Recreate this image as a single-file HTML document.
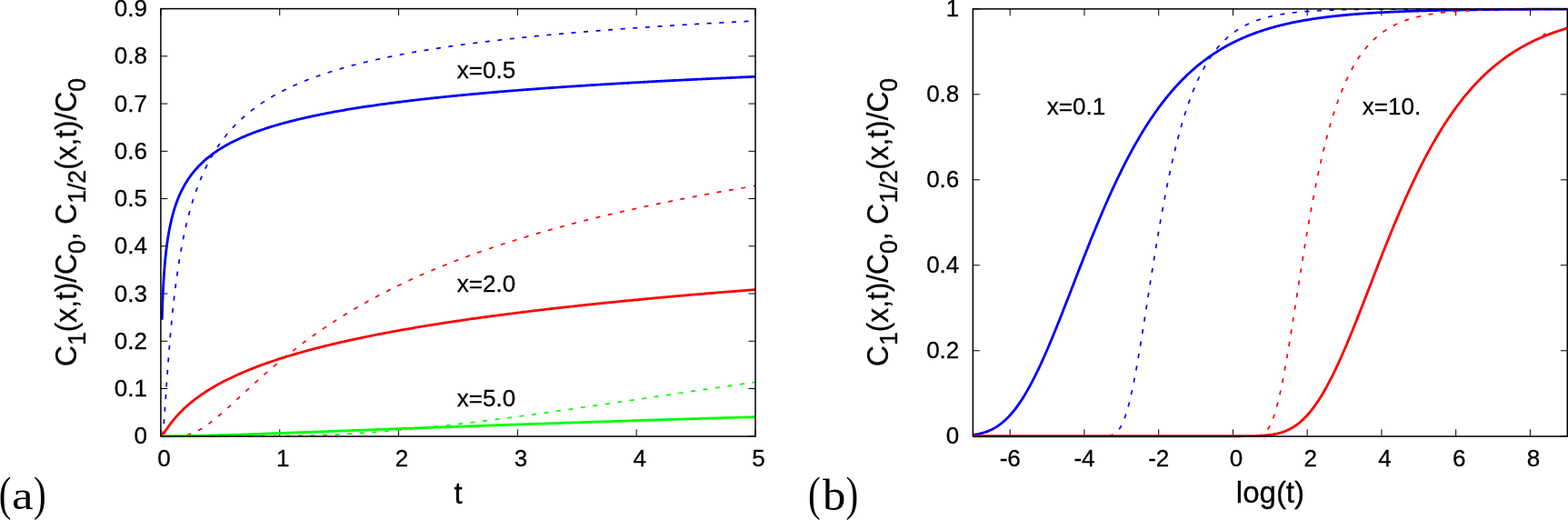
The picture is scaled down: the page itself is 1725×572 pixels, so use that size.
<!DOCTYPE html>
<html><head><meta charset="utf-8"><title>plot</title>
<style>html,body{margin:0;padding:0;background:#fff;overflow:hidden}svg{display:block}
text{font-family:"Liberation Sans",Arial,sans-serif;fill:#000;stroke:#000;stroke-width:0.3px}.serif text{font-family:"Liberation Serif","Times New Roman",serif;stroke:none}</style></head>
<body>
<svg width="1725" height="572" viewBox="0 0 1725 572">
<rect width="1725" height="572" fill="#fff"/>
<g id="pa">
<path d="M176.90 479.75 V472.25 M176.90 9.6 V17.1 M307.72 479.75 V472.25 M307.72 9.6 V17.1 M438.54 479.75 V472.25 M438.54 9.6 V17.1 M569.36 479.75 V472.25 M569.36 9.6 V17.1 M700.18 479.75 V472.25 M700.18 9.6 V17.1 M831.00 479.75 V472.25 M831.00 9.6 V17.1 M176.9 479.75 H184.4 M831.0 479.75 H823.5 M176.9 427.51 H184.4 M831.0 427.51 H823.5 M176.9 375.27 H184.4 M831.0 375.27 H823.5 M176.9 323.03 H184.4 M831.0 323.03 H823.5 M176.9 270.79 H184.4 M831.0 270.79 H823.5 M176.9 218.56 H184.4 M831.0 218.56 H823.5 M176.9 166.32 H184.4 M831.0 166.32 H823.5 M176.9 114.08 H184.4 M831.0 114.08 H823.5 M176.9 61.84 H184.4 M831.0 61.84 H823.5 M176.9 9.60 H184.4 M831.0 9.60 H823.5" stroke="#000" stroke-width="1" fill="none"/>
<path d="M178.21 351.82 L178.42 344.59 L178.63 338.23 L178.83 332.55 L179.04 327.42 L179.25 322.74 L179.46 318.45 L179.67 314.48 L179.88 310.79 L180.09 307.35 L180.30 304.12 L180.51 301.09 L180.71 298.22 L180.92 295.50 L181.13 292.93 L181.34 290.47 L181.55 288.13 L181.76 285.90 L181.97 283.76 L182.18 281.71 L182.39 279.74 L182.59 277.84 L182.80 276.01 L183.01 274.25 L183.22 272.55 L183.43 270.91 L183.64 269.32 L183.85 267.78 L184.06 266.29 L184.27 264.84 L184.47 263.44 L184.68 262.07 L184.89 260.74 L185.10 259.45 L185.31 258.19 L185.52 256.97 L185.73 255.77 L185.94 254.61 L186.15 253.47 L186.35 252.36 L186.56 251.27 L186.77 250.21 L186.98 249.17 L187.19 248.16 L187.40 247.17 L187.61 246.19 L187.82 245.24 L188.03 244.31 L188.23 243.39 L188.44 242.49 L188.65 241.61 L188.86 240.75 L189.07 239.90 L189.28 239.07 L189.49 238.25 L189.70 237.45 L189.91 236.66 L190.11 235.89 L190.32 235.12 L190.53 234.37 L190.74 233.64 L190.95 232.91 L191.16 232.20 L191.37 231.49 L191.58 230.80 L191.78 230.12 L191.99 229.45 L192.20 228.78 L192.41 228.13 L192.62 227.49 L192.83 226.86 L193.04 226.23 L193.25 225.62 L193.46 225.01 L193.66 224.41 L193.87 223.82 L194.08 223.24 L194.29 222.66 L194.50 222.09 L194.71 221.53 L194.92 220.98 L195.13 220.43 L195.34 219.89 L195.54 219.36 L195.75 218.83 L195.96 218.31 L196.17 217.80 L196.38 217.29 L196.59 216.78 L196.80 216.29 L197.01 215.80 L197.22 215.31 L197.42 214.83 L197.63 214.36 L197.84 213.89 L198.05 213.42 L198.26 212.96 L198.47 212.51 L198.68 212.06 L198.89 211.61 L199.10 211.17 L199.30 210.74 L199.51 210.31 L199.72 209.88 L199.93 209.46 L200.14 209.04 L200.35 208.62 L200.56 208.21 L200.77 207.81 L200.98 207.40 L201.18 207.00 L201.39 206.61 L201.60 206.22 L201.81 205.83 L202.02 205.44 L202.23 205.06 L202.44 204.69 L202.65 204.31 L202.86 203.94 L203.06 203.57 L204.64 200.91 L206.21 198.40 L207.79 196.04 L209.36 193.81 L210.93 191.70 L212.51 189.69 L214.08 187.78 L215.65 185.96 L217.23 184.21 L218.80 182.55 L220.38 180.95 L221.95 179.41 L223.52 177.94 L225.10 176.52 L226.67 175.15 L228.24 173.82 L229.82 172.55 L231.39 171.31 L232.97 170.12 L234.54 168.96 L236.11 167.84 L237.69 166.75 L239.26 165.69 L240.83 164.67 L242.41 163.67 L243.98 162.69 L245.56 161.75 L247.13 160.82 L248.70 159.93 L250.28 159.05 L251.85 158.19 L253.42 157.36 L255.00 156.54 L256.57 155.74 L258.15 154.96 L259.72 154.20 L261.29 153.45 L262.87 152.72 L264.44 152.01 L266.01 151.31 L267.59 150.62 L269.16 149.95 L270.74 149.29 L272.31 148.64 L273.88 148.00 L275.46 147.38 L277.03 146.77 L278.61 146.16 L280.18 145.57 L281.75 144.99 L283.33 144.42 L284.90 143.86 L286.47 143.31 L288.05 142.77 L289.62 142.23 L291.20 141.71 L292.77 141.19 L294.34 140.68 L295.92 140.18 L297.49 139.68 L299.06 139.20 L300.64 138.72 L302.21 138.25 L303.79 137.78 L305.36 137.32 L306.93 136.87 L308.51 136.42 L310.08 135.98 L311.65 135.55 L313.23 135.12 L314.80 134.70 L316.38 134.28 L317.95 133.87 L319.52 133.46 L321.10 133.06 L322.67 132.67 L324.24 132.27 L325.82 131.89 L327.39 131.51 L328.97 131.13 L330.54 130.76 L332.11 130.39 L333.69 130.02 L335.26 129.66 L336.83 129.31 L338.41 128.96 L339.98 128.61 L341.56 128.27 L343.13 127.93 L344.70 127.59 L346.28 127.26 L347.85 126.93 L349.43 126.60 L351.00 126.28 L352.57 125.96 L354.15 125.65 L355.72 125.33 L357.29 125.03 L358.87 124.72 L360.44 124.42 L362.02 124.12 L363.59 123.82 L365.16 123.53 L366.74 123.24 L368.31 122.95 L369.88 122.66 L371.46 122.38 L373.03 122.10 L374.61 121.82 L376.18 121.55 L377.75 121.27 L379.33 121.00 L380.90 120.74 L382.47 120.47 L384.05 120.21 L385.62 119.95 L387.20 119.69 L388.77 119.43 L390.34 119.18 L391.92 118.93 L393.49 118.68 L395.06 118.43 L396.64 118.19 L398.21 117.94 L399.79 117.70 L401.36 117.46 L402.93 117.22 L404.51 116.99 L406.08 116.76 L407.65 116.52 L409.23 116.29 L410.80 116.07 L412.38 115.84 L413.95 115.62 L415.52 115.39 L417.10 115.17 L418.67 114.95 L420.24 114.73 L421.82 114.52 L423.39 114.30 L424.97 114.09 L426.54 113.88 L428.11 113.67 L429.69 113.46 L431.26 113.26 L432.84 113.05 L434.41 112.85 L435.98 112.65 L437.56 112.44 L439.13 112.25 L440.70 112.05 L442.28 111.85 L443.85 111.66 L445.43 111.46 L447.00 111.27 L448.57 111.08 L450.15 110.89 L451.72 110.70 L453.29 110.51 L454.87 110.33 L456.44 110.14 L458.02 109.96 L459.59 109.77 L461.16 109.59 L462.74 109.41 L464.31 109.23 L465.88 109.06 L467.46 108.88 L469.03 108.70 L470.61 108.53 L472.18 108.36 L473.75 108.18 L475.33 108.01 L476.90 107.84 L478.47 107.67 L480.05 107.51 L481.62 107.34 L483.20 107.17 L484.77 107.01 L486.34 106.84 L487.92 106.68 L489.49 106.52 L491.06 106.36 L492.64 106.20 L494.21 106.04 L495.79 105.88 L497.36 105.72 L498.93 105.57 L500.51 105.41 L502.08 105.26 L503.65 105.10 L505.23 104.95 L506.80 104.80 L508.38 104.64 L509.95 104.49 L511.52 104.34 L513.10 104.20 L514.67 104.05 L516.25 103.90 L517.82 103.75 L519.39 103.61 L520.97 103.46 L522.54 103.32 L524.11 103.18 L525.69 103.03 L527.26 102.89 L528.84 102.75 L530.41 102.61 L531.98 102.47 L533.56 102.33 L535.13 102.20 L536.70 102.06 L538.28 101.92 L539.85 101.79 L541.43 101.65 L543.00 101.52 L544.57 101.38 L546.15 101.25 L547.72 101.12 L549.29 100.98 L550.87 100.85 L552.44 100.72 L554.02 100.59 L555.59 100.46 L557.16 100.33 L558.74 100.21 L560.31 100.08 L561.88 99.95 L563.46 99.83 L565.03 99.70 L566.61 99.58 L568.18 99.45 L569.75 99.33 L571.33 99.20 L572.90 99.08 L574.47 98.96 L576.05 98.84 L577.62 98.72 L579.20 98.60 L580.77 98.48 L582.34 98.36 L583.92 98.24 L585.49 98.12 L587.06 98.00 L588.64 97.89 L590.21 97.77 L591.79 97.65 L593.36 97.54 L594.93 97.42 L596.51 97.31 L598.08 97.19 L599.66 97.08 L601.23 96.97 L602.80 96.86 L604.38 96.74 L605.95 96.63 L607.52 96.52 L609.10 96.41 L610.67 96.30 L612.25 96.19 L613.82 96.08 L615.39 95.97 L616.97 95.86 L618.54 95.76 L620.11 95.65 L621.69 95.54 L623.26 95.44 L624.84 95.33 L626.41 95.22 L627.98 95.12 L629.56 95.01 L631.13 94.91 L632.70 94.81 L634.28 94.70 L635.85 94.60 L637.43 94.50 L639.00 94.40 L640.57 94.29 L642.15 94.19 L643.72 94.09 L645.29 93.99 L646.87 93.89 L648.44 93.79 L650.02 93.69 L651.59 93.59 L653.16 93.49 L654.74 93.40 L656.31 93.30 L657.88 93.20 L659.46 93.10 L661.03 93.01 L662.61 92.91 L664.18 92.81 L665.75 92.72 L667.33 92.62 L668.90 92.53 L670.48 92.43 L672.05 92.34 L673.62 92.25 L675.20 92.15 L676.77 92.06 L678.34 91.97 L679.92 91.88 L681.49 91.78 L683.07 91.69 L684.64 91.60 L686.21 91.51 L687.79 91.42 L689.36 91.33 L690.93 91.24 L692.51 91.15 L694.08 91.06 L695.66 90.97 L697.23 90.88 L698.80 90.79 L700.38 90.70 L701.95 90.62 L703.52 90.53 L705.10 90.44 L706.67 90.36 L708.25 90.27 L709.82 90.18 L711.39 90.10 L712.97 90.01 L714.54 89.93 L716.11 89.84 L717.69 89.76 L719.26 89.67 L720.84 89.59 L722.41 89.50 L723.98 89.42 L725.56 89.34 L727.13 89.25 L728.70 89.17 L730.28 89.09 L731.85 89.01 L733.43 88.92 L735.00 88.84 L736.57 88.76 L738.15 88.68 L739.72 88.60 L741.29 88.52 L742.87 88.44 L744.44 88.36 L746.02 88.28 L747.59 88.20 L749.16 88.12 L750.74 88.04 L752.31 87.96 L753.89 87.88 L755.46 87.80 L757.03 87.73 L758.61 87.65 L760.18 87.57 L761.75 87.49 L763.33 87.42 L764.90 87.34 L766.48 87.26 L768.05 87.19 L769.62 87.11 L771.20 87.04 L772.77 86.96 L774.34 86.88 L775.92 86.81 L777.49 86.73 L779.07 86.66 L780.64 86.59 L782.21 86.51 L783.79 86.44 L785.36 86.36 L786.93 86.29 L788.51 86.22 L790.08 86.14 L791.66 86.07 L793.23 86.00 L794.80 85.93 L796.38 85.85 L797.95 85.78 L799.52 85.71 L801.10 85.64 L802.67 85.57 L804.25 85.50 L805.82 85.43 L807.39 85.36 L808.97 85.28 L810.54 85.21 L812.11 85.14 L813.69 85.07 L815.26 85.01 L816.84 84.94 L818.41 84.87 L819.98 84.80 L821.56 84.73 L823.13 84.66 L824.70 84.59 L826.28 84.52 L827.85 84.46 L829.43 84.39 L831.00 84.32" stroke="#0000ff" stroke-width="2.8" fill="none" stroke-linejoin="round"/>
<path d="M178.21 479.54 L178.42 479.21 L178.63 478.66 L178.83 477.84 L179.04 476.75 L179.25 475.37 L179.46 473.73 L179.67 471.85 L179.88 469.75 L180.09 467.46 L180.30 465.00 L180.51 462.40 L180.71 459.68 L180.92 456.87 L181.13 453.97 L181.34 451.02 L181.55 448.01 L181.76 444.97 L181.97 441.90 L182.18 438.82 L182.39 435.74 L182.59 432.65 L182.80 429.58 L183.01 426.51 L183.22 423.46 L183.43 420.44 L183.64 417.43 L183.85 414.46 L184.06 411.51 L184.27 408.59 L184.47 405.70 L184.68 402.85 L184.89 400.03 L185.10 397.25 L185.31 394.50 L185.52 391.79 L185.73 389.11 L185.94 386.47 L186.15 383.87 L186.35 381.30 L186.56 378.77 L186.77 376.27 L186.98 373.81 L187.19 371.39 L187.40 368.99 L187.61 366.64 L187.82 364.31 L188.03 362.02 L188.23 359.76 L188.44 357.54 L188.65 355.34 L188.86 353.18 L189.07 351.04 L189.28 348.94 L189.49 346.87 L189.70 344.82 L189.91 342.81 L190.11 340.82 L190.32 338.86 L190.53 336.93 L190.74 335.02 L190.95 333.14 L191.16 331.29 L191.37 329.45 L191.58 327.65 L191.78 325.87 L191.99 324.11 L192.20 322.37 L192.41 320.66 L192.62 318.97 L192.83 317.31 L193.04 315.66 L193.25 314.03 L193.46 312.43 L193.66 310.84 L193.87 309.28 L194.08 307.73 L194.29 306.21 L194.50 304.70 L194.71 303.21 L194.92 301.74 L195.13 300.29 L195.34 298.85 L195.54 297.43 L195.75 296.03 L195.96 294.65 L196.17 293.28 L196.38 291.92 L196.59 290.58 L196.80 289.26 L197.01 287.95 L197.22 286.66 L197.42 285.38 L197.63 284.12 L197.84 282.87 L198.05 281.63 L198.26 280.41 L198.47 279.20 L198.68 278.01 L198.89 276.82 L199.10 275.65 L199.30 274.49 L199.51 273.35 L199.72 272.21 L199.93 271.09 L200.14 269.98 L200.35 268.88 L200.56 267.79 L200.77 266.71 L200.98 265.65 L201.18 264.59 L201.39 263.55 L201.60 262.51 L201.81 261.49 L202.02 260.47 L202.23 259.47 L202.44 258.47 L202.65 257.49 L202.86 256.51 L203.06 255.54 L204.64 248.54 L206.21 242.00 L207.79 235.88 L209.36 230.13 L210.93 224.72 L212.51 219.61 L214.08 214.79 L215.65 210.22 L217.23 205.88 L218.80 201.75 L220.38 197.83 L221.95 194.08 L223.52 190.51 L225.10 187.09 L226.67 183.81 L228.24 180.67 L229.82 177.66 L231.39 174.77 L232.97 171.98 L234.54 169.30 L236.11 166.72 L237.69 164.23 L239.26 161.83 L240.83 159.50 L242.41 157.26 L243.98 155.09 L245.56 152.98 L247.13 150.95 L248.70 148.97 L250.28 147.05 L251.85 145.19 L253.42 143.39 L255.00 141.63 L256.57 139.93 L258.15 138.27 L259.72 136.65 L261.29 135.08 L262.87 133.54 L264.44 132.05 L266.01 130.59 L267.59 129.17 L269.16 127.79 L270.74 126.43 L272.31 125.11 L273.88 123.82 L275.46 122.56 L277.03 121.32 L278.61 120.12 L280.18 118.94 L281.75 117.78 L283.33 116.65 L284.90 115.55 L286.47 114.46 L288.05 113.40 L289.62 112.36 L291.20 111.34 L292.77 110.34 L294.34 109.36 L295.92 108.39 L297.49 107.45 L299.06 106.52 L300.64 105.61 L302.21 104.72 L303.79 103.84 L305.36 102.98 L306.93 102.13 L308.51 101.30 L310.08 100.48 L311.65 99.67 L313.23 98.88 L314.80 98.10 L316.38 97.34 L317.95 96.58 L319.52 95.84 L321.10 95.11 L322.67 94.40 L324.24 93.69 L325.82 92.99 L327.39 92.31 L328.97 91.63 L330.54 90.97 L332.11 90.31 L333.69 89.67 L335.26 89.03 L336.83 88.40 L338.41 87.78 L339.98 87.17 L341.56 86.57 L343.13 85.98 L344.70 85.39 L346.28 84.82 L347.85 84.25 L349.43 83.68 L351.00 83.13 L352.57 82.58 L354.15 82.04 L355.72 81.51 L357.29 80.98 L358.87 80.46 L360.44 79.95 L362.02 79.44 L363.59 78.94 L365.16 78.45 L366.74 77.96 L368.31 77.48 L369.88 77.00 L371.46 76.53 L373.03 76.06 L374.61 75.60 L376.18 75.15 L377.75 74.70 L379.33 74.25 L380.90 73.81 L382.47 73.38 L384.05 72.95 L385.62 72.52 L387.20 72.10 L388.77 71.68 L390.34 71.27 L391.92 70.87 L393.49 70.46 L395.06 70.06 L396.64 69.67 L398.21 69.28 L399.79 68.89 L401.36 68.51 L402.93 68.13 L404.51 67.76 L406.08 67.39 L407.65 67.02 L409.23 66.66 L410.80 66.30 L412.38 65.94 L413.95 65.59 L415.52 65.24 L417.10 64.89 L418.67 64.55 L420.24 64.21 L421.82 63.87 L423.39 63.54 L424.97 63.21 L426.54 62.88 L428.11 62.56 L429.69 62.24 L431.26 61.92 L432.84 61.61 L434.41 61.29 L435.98 60.98 L437.56 60.68 L439.13 60.37 L440.70 60.07 L442.28 59.77 L443.85 59.48 L445.43 59.18 L447.00 58.89 L448.57 58.60 L450.15 58.32 L451.72 58.03 L453.29 57.75 L454.87 57.47 L456.44 57.20 L458.02 56.92 L459.59 56.65 L461.16 56.38 L462.74 56.11 L464.31 55.85 L465.88 55.58 L467.46 55.32 L469.03 55.06 L470.61 54.81 L472.18 54.55 L473.75 54.30 L475.33 54.05 L476.90 53.80 L478.47 53.55 L480.05 53.30 L481.62 53.06 L483.20 52.82 L484.77 52.58 L486.34 52.34 L487.92 52.10 L489.49 51.87 L491.06 51.64 L492.64 51.40 L494.21 51.17 L495.79 50.95 L497.36 50.72 L498.93 50.50 L500.51 50.27 L502.08 50.05 L503.65 49.83 L505.23 49.61 L506.80 49.40 L508.38 49.18 L509.95 48.97 L511.52 48.76 L513.10 48.55 L514.67 48.34 L516.25 48.13 L517.82 47.92 L519.39 47.72 L520.97 47.51 L522.54 47.31 L524.11 47.11 L525.69 46.91 L527.26 46.71 L528.84 46.52 L530.41 46.32 L531.98 46.13 L533.56 45.93 L535.13 45.74 L536.70 45.55 L538.28 45.36 L539.85 45.17 L541.43 44.99 L543.00 44.80 L544.57 44.62 L546.15 44.43 L547.72 44.25 L549.29 44.07 L550.87 43.89 L552.44 43.71 L554.02 43.53 L555.59 43.36 L557.16 43.18 L558.74 43.00 L560.31 42.83 L561.88 42.66 L563.46 42.49 L565.03 42.32 L566.61 42.15 L568.18 41.98 L569.75 41.81 L571.33 41.65 L572.90 41.48 L574.47 41.32 L576.05 41.15 L577.62 40.99 L579.20 40.83 L580.77 40.67 L582.34 40.51 L583.92 40.35 L585.49 40.19 L587.06 40.04 L588.64 39.88 L590.21 39.72 L591.79 39.57 L593.36 39.42 L594.93 39.26 L596.51 39.11 L598.08 38.96 L599.66 38.81 L601.23 38.66 L602.80 38.51 L604.38 38.37 L605.95 38.22 L607.52 38.07 L609.10 37.93 L610.67 37.78 L612.25 37.64 L613.82 37.50 L615.39 37.35 L616.97 37.21 L618.54 37.07 L620.11 36.93 L621.69 36.79 L623.26 36.65 L624.84 36.52 L626.41 36.38 L627.98 36.24 L629.56 36.11 L631.13 35.97 L632.70 35.84 L634.28 35.71 L635.85 35.57 L637.43 35.44 L639.00 35.31 L640.57 35.18 L642.15 35.05 L643.72 34.92 L645.29 34.79 L646.87 34.66 L648.44 34.53 L650.02 34.41 L651.59 34.28 L653.16 34.15 L654.74 34.03 L656.31 33.90 L657.88 33.78 L659.46 33.66 L661.03 33.53 L662.61 33.41 L664.18 33.29 L665.75 33.17 L667.33 33.05 L668.90 32.93 L670.48 32.81 L672.05 32.69 L673.62 32.57 L675.20 32.46 L676.77 32.34 L678.34 32.22 L679.92 32.11 L681.49 31.99 L683.07 31.88 L684.64 31.76 L686.21 31.65 L687.79 31.54 L689.36 31.42 L690.93 31.31 L692.51 31.20 L694.08 31.09 L695.66 30.98 L697.23 30.87 L698.80 30.76 L700.38 30.65 L701.95 30.54 L703.52 30.43 L705.10 30.32 L706.67 30.21 L708.25 30.11 L709.82 30.00 L711.39 29.90 L712.97 29.79 L714.54 29.69 L716.11 29.58 L717.69 29.48 L719.26 29.37 L720.84 29.27 L722.41 29.17 L723.98 29.06 L725.56 28.96 L727.13 28.86 L728.70 28.76 L730.28 28.66 L731.85 28.56 L733.43 28.46 L735.00 28.36 L736.57 28.26 L738.15 28.16 L739.72 28.06 L741.29 27.97 L742.87 27.87 L744.44 27.77 L746.02 27.68 L747.59 27.58 L749.16 27.48 L750.74 27.39 L752.31 27.29 L753.89 27.20 L755.46 27.11 L757.03 27.01 L758.61 26.92 L760.18 26.83 L761.75 26.73 L763.33 26.64 L764.90 26.55 L766.48 26.46 L768.05 26.37 L769.62 26.28 L771.20 26.18 L772.77 26.09 L774.34 26.00 L775.92 25.92 L777.49 25.83 L779.07 25.74 L780.64 25.65 L782.21 25.56 L783.79 25.47 L785.36 25.39 L786.93 25.30 L788.51 25.21 L790.08 25.13 L791.66 25.04 L793.23 24.95 L794.80 24.87 L796.38 24.78 L797.95 24.70 L799.52 24.61 L801.10 24.53 L802.67 24.45 L804.25 24.36 L805.82 24.28 L807.39 24.20 L808.97 24.11 L810.54 24.03 L812.11 23.95 L813.69 23.87 L815.26 23.79 L816.84 23.71 L818.41 23.63 L819.98 23.55 L821.56 23.47 L823.13 23.39 L824.70 23.31 L826.28 23.23 L827.85 23.15 L829.43 23.07 L831.00 22.99" stroke="#0000ff" stroke-width="1.7" stroke-dasharray="5 8.6" fill="none"/>
<path d="M178.21 479.11 L178.42 478.90 L178.63 478.67 L178.83 478.42 L179.04 478.16 L179.25 477.90 L179.46 477.62 L179.67 477.34 L179.88 477.05 L180.09 476.76 L180.30 476.46 L180.51 476.16 L180.71 475.86 L180.92 475.56 L181.13 475.26 L181.34 474.95 L181.55 474.64 L181.76 474.34 L181.97 474.03 L182.18 473.72 L182.39 473.42 L182.59 473.11 L182.80 472.80 L183.01 472.50 L183.22 472.19 L183.43 471.89 L183.64 471.59 L183.85 471.29 L184.06 470.99 L184.27 470.69 L184.47 470.39 L184.68 470.09 L184.89 469.80 L185.10 469.50 L185.31 469.21 L185.52 468.92 L185.73 468.63 L185.94 468.34 L186.15 468.06 L186.35 467.77 L186.56 467.49 L186.77 467.20 L186.98 466.92 L187.19 466.64 L187.40 466.36 L187.61 466.09 L187.82 465.81 L188.03 465.54 L188.23 465.26 L188.44 464.99 L188.65 464.72 L188.86 464.45 L189.07 464.19 L189.28 463.92 L189.49 463.66 L189.70 463.39 L189.91 463.13 L190.11 462.87 L190.32 462.61 L190.53 462.36 L190.74 462.10 L190.95 461.84 L191.16 461.59 L191.37 461.34 L191.58 461.09 L191.78 460.84 L191.99 460.59 L192.20 460.34 L192.41 460.10 L192.62 459.85 L192.83 459.61 L193.04 459.37 L193.25 459.12 L193.46 458.88 L193.66 458.65 L193.87 458.41 L194.08 458.17 L194.29 457.94 L194.50 457.70 L194.71 457.47 L194.92 457.24 L195.13 457.01 L195.34 456.78 L195.54 456.55 L195.75 456.32 L195.96 456.09 L196.17 455.87 L196.38 455.64 L196.59 455.42 L196.80 455.20 L197.01 454.98 L197.22 454.76 L197.42 454.54 L197.63 454.32 L197.84 454.10 L198.05 453.89 L198.26 453.67 L198.47 453.46 L198.68 453.24 L198.89 453.03 L199.10 452.82 L199.30 452.61 L199.51 452.40 L199.72 452.19 L199.93 451.98 L200.14 451.78 L200.35 451.57 L200.56 451.36 L200.77 451.16 L200.98 450.96 L201.18 450.75 L201.39 450.55 L201.60 450.35 L201.81 450.15 L202.02 449.95 L202.23 449.75 L202.44 449.56 L202.65 449.36 L202.86 449.16 L203.06 448.97 L204.64 447.52 L206.21 446.12 L207.79 444.75 L209.36 443.42 L210.93 442.13 L212.51 440.87 L214.08 439.64 L215.65 438.44 L217.23 437.27 L218.80 436.13 L220.38 435.01 L221.95 433.92 L223.52 432.85 L225.10 431.80 L226.67 430.78 L228.24 429.77 L229.82 428.79 L231.39 427.82 L232.97 426.87 L234.54 425.94 L236.11 425.02 L237.69 424.13 L239.26 423.24 L240.83 422.37 L242.41 421.52 L243.98 420.68 L245.56 419.86 L247.13 419.04 L248.70 418.24 L250.28 417.45 L251.85 416.68 L253.42 415.91 L255.00 415.16 L256.57 414.42 L258.15 413.68 L259.72 412.96 L261.29 412.25 L262.87 411.55 L264.44 410.85 L266.01 410.17 L267.59 409.49 L269.16 408.83 L270.74 408.17 L272.31 407.52 L273.88 406.88 L275.46 406.24 L277.03 405.61 L278.61 405.00 L280.18 404.38 L281.75 403.78 L283.33 403.18 L284.90 402.59 L286.47 402.00 L288.05 401.42 L289.62 400.85 L291.20 400.29 L292.77 399.72 L294.34 399.17 L295.92 398.62 L297.49 398.08 L299.06 397.54 L300.64 397.01 L302.21 396.48 L303.79 395.96 L305.36 395.44 L306.93 394.93 L308.51 394.43 L310.08 393.92 L311.65 393.43 L313.23 392.93 L314.80 392.45 L316.38 391.96 L317.95 391.48 L319.52 391.01 L321.10 390.54 L322.67 390.07 L324.24 389.61 L325.82 389.15 L327.39 388.69 L328.97 388.24 L330.54 387.80 L332.11 387.35 L333.69 386.91 L335.26 386.48 L336.83 386.04 L338.41 385.62 L339.98 385.19 L341.56 384.77 L343.13 384.35 L344.70 383.93 L346.28 383.52 L347.85 383.11 L349.43 382.70 L351.00 382.30 L352.57 381.90 L354.15 381.50 L355.72 381.11 L357.29 380.72 L358.87 380.33 L360.44 379.94 L362.02 379.56 L363.59 379.18 L365.16 378.80 L366.74 378.43 L368.31 378.05 L369.88 377.68 L371.46 377.32 L373.03 376.95 L374.61 376.59 L376.18 376.23 L377.75 375.87 L379.33 375.52 L380.90 375.16 L382.47 374.81 L384.05 374.47 L385.62 374.12 L387.20 373.78 L388.77 373.43 L390.34 373.10 L391.92 372.76 L393.49 372.42 L395.06 372.09 L396.64 371.76 L398.21 371.43 L399.79 371.10 L401.36 370.78 L402.93 370.45 L404.51 370.13 L406.08 369.81 L407.65 369.50 L409.23 369.18 L410.80 368.87 L412.38 368.56 L413.95 368.25 L415.52 367.94 L417.10 367.63 L418.67 367.33 L420.24 367.02 L421.82 366.72 L423.39 366.42 L424.97 366.12 L426.54 365.83 L428.11 365.53 L429.69 365.24 L431.26 364.95 L432.84 364.66 L434.41 364.37 L435.98 364.08 L437.56 363.80 L439.13 363.51 L440.70 363.23 L442.28 362.95 L443.85 362.67 L445.43 362.39 L447.00 362.12 L448.57 361.84 L450.15 361.57 L451.72 361.30 L453.29 361.03 L454.87 360.76 L456.44 360.49 L458.02 360.22 L459.59 359.96 L461.16 359.69 L462.74 359.43 L464.31 359.17 L465.88 358.91 L467.46 358.65 L469.03 358.39 L470.61 358.13 L472.18 357.88 L473.75 357.62 L475.33 357.37 L476.90 357.12 L478.47 356.87 L480.05 356.62 L481.62 356.37 L483.20 356.12 L484.77 355.88 L486.34 355.63 L487.92 355.39 L489.49 355.14 L491.06 354.90 L492.64 354.66 L494.21 354.42 L495.79 354.18 L497.36 353.95 L498.93 353.71 L500.51 353.48 L502.08 353.24 L503.65 353.01 L505.23 352.78 L506.80 352.54 L508.38 352.31 L509.95 352.08 L511.52 351.86 L513.10 351.63 L514.67 351.40 L516.25 351.18 L517.82 350.95 L519.39 350.73 L520.97 350.51 L522.54 350.29 L524.11 350.06 L525.69 349.85 L527.26 349.63 L528.84 349.41 L530.41 349.19 L531.98 348.97 L533.56 348.76 L535.13 348.54 L536.70 348.33 L538.28 348.12 L539.85 347.91 L541.43 347.70 L543.00 347.48 L544.57 347.28 L546.15 347.07 L547.72 346.86 L549.29 346.65 L550.87 346.45 L552.44 346.24 L554.02 346.04 L555.59 345.83 L557.16 345.63 L558.74 345.43 L560.31 345.22 L561.88 345.02 L563.46 344.82 L565.03 344.62 L566.61 344.43 L568.18 344.23 L569.75 344.03 L571.33 343.83 L572.90 343.64 L574.47 343.44 L576.05 343.25 L577.62 343.06 L579.20 342.86 L580.77 342.67 L582.34 342.48 L583.92 342.29 L585.49 342.10 L587.06 341.91 L588.64 341.72 L590.21 341.53 L591.79 341.34 L593.36 341.16 L594.93 340.97 L596.51 340.79 L598.08 340.60 L599.66 340.42 L601.23 340.23 L602.80 340.05 L604.38 339.87 L605.95 339.69 L607.52 339.51 L609.10 339.33 L610.67 339.15 L612.25 338.97 L613.82 338.79 L615.39 338.61 L616.97 338.43 L618.54 338.26 L620.11 338.08 L621.69 337.90 L623.26 337.73 L624.84 337.55 L626.41 337.38 L627.98 337.21 L629.56 337.03 L631.13 336.86 L632.70 336.69 L634.28 336.52 L635.85 336.35 L637.43 336.18 L639.00 336.01 L640.57 335.84 L642.15 335.67 L643.72 335.50 L645.29 335.34 L646.87 335.17 L648.44 335.00 L650.02 334.84 L651.59 334.67 L653.16 334.51 L654.74 334.34 L656.31 334.18 L657.88 334.01 L659.46 333.85 L661.03 333.69 L662.61 333.53 L664.18 333.37 L665.75 333.21 L667.33 333.05 L668.90 332.89 L670.48 332.73 L672.05 332.57 L673.62 332.41 L675.20 332.25 L676.77 332.09 L678.34 331.94 L679.92 331.78 L681.49 331.62 L683.07 331.47 L684.64 331.31 L686.21 331.16 L687.79 331.00 L689.36 330.85 L690.93 330.70 L692.51 330.54 L694.08 330.39 L695.66 330.24 L697.23 330.09 L698.80 329.94 L700.38 329.79 L701.95 329.64 L703.52 329.49 L705.10 329.34 L706.67 329.19 L708.25 329.04 L709.82 328.89 L711.39 328.74 L712.97 328.60 L714.54 328.45 L716.11 328.30 L717.69 328.16 L719.26 328.01 L720.84 327.87 L722.41 327.72 L723.98 327.58 L725.56 327.43 L727.13 327.29 L728.70 327.14 L730.28 327.00 L731.85 326.86 L733.43 326.72 L735.00 326.58 L736.57 326.43 L738.15 326.29 L739.72 326.15 L741.29 326.01 L742.87 325.87 L744.44 325.73 L746.02 325.59 L747.59 325.45 L749.16 325.32 L750.74 325.18 L752.31 325.04 L753.89 324.90 L755.46 324.77 L757.03 324.63 L758.61 324.49 L760.18 324.36 L761.75 324.22 L763.33 324.09 L764.90 323.95 L766.48 323.82 L768.05 323.68 L769.62 323.55 L771.20 323.41 L772.77 323.28 L774.34 323.15 L775.92 323.02 L777.49 322.88 L779.07 322.75 L780.64 322.62 L782.21 322.49 L783.79 322.36 L785.36 322.23 L786.93 322.10 L788.51 321.97 L790.08 321.84 L791.66 321.71 L793.23 321.58 L794.80 321.45 L796.38 321.32 L797.95 321.19 L799.52 321.07 L801.10 320.94 L802.67 320.81 L804.25 320.69 L805.82 320.56 L807.39 320.43 L808.97 320.31 L810.54 320.18 L812.11 320.06 L813.69 319.93 L815.26 319.81 L816.84 319.68 L818.41 319.56 L819.98 319.43 L821.56 319.31 L823.13 319.19 L824.70 319.06 L826.28 318.94 L827.85 318.82 L829.43 318.70 L831.00 318.58" stroke="#ff0000" stroke-width="2.8" fill="none" stroke-linejoin="round"/>
<path d="M178.21 479.75 L178.42 479.75 L178.63 479.75 L178.83 479.75 L179.04 479.75 L179.25 479.75 L179.46 479.75 L179.67 479.75 L179.88 479.75 L180.09 479.75 L180.30 479.75 L180.51 479.75 L180.71 479.75 L180.92 479.75 L181.13 479.75 L181.34 479.75 L181.55 479.75 L181.76 479.75 L181.97 479.75 L182.18 479.75 L182.39 479.75 L182.59 479.75 L182.80 479.75 L183.01 479.75 L183.22 479.75 L183.43 479.75 L183.64 479.75 L183.85 479.75 L184.06 479.75 L184.27 479.75 L184.47 479.75 L184.68 479.75 L184.89 479.75 L185.10 479.75 L185.31 479.75 L185.52 479.75 L185.73 479.75 L185.94 479.75 L186.15 479.75 L186.35 479.75 L186.56 479.75 L186.77 479.75 L186.98 479.75 L187.19 479.75 L187.40 479.75 L187.61 479.75 L187.82 479.75 L188.03 479.75 L188.23 479.75 L188.44 479.75 L188.65 479.75 L188.86 479.75 L189.07 479.75 L189.28 479.75 L189.49 479.75 L189.70 479.75 L189.91 479.75 L190.11 479.75 L190.32 479.74 L190.53 479.74 L190.74 479.74 L190.95 479.74 L191.16 479.74 L191.37 479.74 L191.58 479.74 L191.78 479.74 L191.99 479.73 L192.20 479.73 L192.41 479.73 L192.62 479.73 L192.83 479.72 L193.04 479.72 L193.25 479.72 L193.46 479.71 L193.66 479.71 L193.87 479.70 L194.08 479.70 L194.29 479.70 L194.50 479.69 L194.71 479.68 L194.92 479.68 L195.13 479.67 L195.34 479.66 L195.54 479.66 L195.75 479.65 L195.96 479.64 L196.17 479.63 L196.38 479.62 L196.59 479.61 L196.80 479.60 L197.01 479.59 L197.22 479.58 L197.42 479.56 L197.63 479.55 L197.84 479.54 L198.05 479.52 L198.26 479.51 L198.47 479.49 L198.68 479.47 L198.89 479.46 L199.10 479.44 L199.30 479.42 L199.51 479.40 L199.72 479.38 L199.93 479.36 L200.14 479.34 L200.35 479.31 L200.56 479.29 L200.77 479.26 L200.98 479.24 L201.18 479.21 L201.39 479.18 L201.60 479.16 L201.81 479.13 L202.02 479.10 L202.23 479.07 L202.44 479.03 L202.65 479.00 L202.86 478.97 L203.06 478.93 L204.64 478.64 L206.21 478.28 L207.79 477.87 L209.36 477.39 L210.93 476.85 L212.51 476.24 L214.08 475.58 L215.65 474.86 L217.23 474.08 L218.80 473.24 L220.38 472.35 L221.95 471.42 L223.52 470.43 L225.10 469.40 L226.67 468.33 L228.24 467.22 L229.82 466.08 L231.39 464.90 L232.97 463.68 L234.54 462.45 L236.11 461.18 L237.69 459.89 L239.26 458.58 L240.83 457.25 L242.41 455.90 L243.98 454.53 L245.56 453.15 L247.13 451.76 L248.70 450.35 L250.28 448.94 L251.85 447.51 L253.42 446.08 L255.00 444.65 L256.57 443.20 L258.15 441.76 L259.72 440.31 L261.29 438.86 L262.87 437.40 L264.44 435.95 L266.01 434.50 L267.59 433.05 L269.16 431.59 L270.74 430.15 L272.31 428.70 L273.88 427.26 L275.46 425.82 L277.03 424.38 L278.61 422.95 L280.18 421.52 L281.75 420.10 L283.33 418.68 L284.90 417.27 L286.47 415.87 L288.05 414.47 L289.62 413.08 L291.20 411.69 L292.77 410.31 L294.34 408.94 L295.92 407.58 L297.49 406.22 L299.06 404.87 L300.64 403.53 L302.21 402.19 L303.79 400.86 L305.36 399.54 L306.93 398.23 L308.51 396.93 L310.08 395.63 L311.65 394.34 L313.23 393.06 L314.80 391.79 L316.38 390.52 L317.95 389.27 L319.52 388.02 L321.10 386.78 L322.67 385.55 L324.24 384.32 L325.82 383.10 L327.39 381.90 L328.97 380.69 L330.54 379.50 L332.11 378.32 L333.69 377.14 L335.26 375.97 L336.83 374.81 L338.41 373.66 L339.98 372.51 L341.56 371.37 L343.13 370.24 L344.70 369.12 L346.28 368.00 L347.85 366.89 L349.43 365.79 L351.00 364.70 L352.57 363.61 L354.15 362.54 L355.72 361.47 L357.29 360.40 L358.87 359.34 L360.44 358.30 L362.02 357.25 L363.59 356.22 L365.16 355.19 L366.74 354.17 L368.31 353.15 L369.88 352.14 L371.46 351.14 L373.03 350.15 L374.61 349.16 L376.18 348.18 L377.75 347.20 L379.33 346.24 L380.90 345.27 L382.47 344.32 L384.05 343.37 L385.62 342.43 L387.20 341.49 L388.77 340.56 L390.34 339.63 L391.92 338.71 L393.49 337.80 L395.06 336.89 L396.64 335.99 L398.21 335.10 L399.79 334.21 L401.36 333.33 L402.93 332.45 L404.51 331.58 L406.08 330.71 L407.65 329.85 L409.23 328.99 L410.80 328.14 L412.38 327.30 L413.95 326.46 L415.52 325.62 L417.10 324.79 L418.67 323.97 L420.24 323.15 L421.82 322.34 L423.39 321.53 L424.97 320.72 L426.54 319.92 L428.11 319.13 L429.69 318.34 L431.26 317.56 L432.84 316.78 L434.41 316.00 L435.98 315.23 L437.56 314.47 L439.13 313.71 L440.70 312.95 L442.28 312.20 L443.85 311.45 L445.43 310.71 L447.00 309.97 L448.57 309.23 L450.15 308.50 L451.72 307.78 L453.29 307.06 L454.87 306.34 L456.44 305.63 L458.02 304.92 L459.59 304.21 L461.16 303.51 L462.74 302.82 L464.31 302.12 L465.88 301.44 L467.46 300.75 L469.03 300.07 L470.61 299.39 L472.18 298.72 L473.75 298.05 L475.33 297.38 L476.90 296.72 L478.47 296.06 L480.05 295.41 L481.62 294.76 L483.20 294.11 L484.77 293.47 L486.34 292.83 L487.92 292.19 L489.49 291.56 L491.06 290.93 L492.64 290.30 L494.21 289.68 L495.79 289.06 L497.36 288.44 L498.93 287.83 L500.51 287.22 L502.08 286.61 L503.65 286.01 L505.23 285.41 L506.80 284.81 L508.38 284.22 L509.95 283.63 L511.52 283.04 L513.10 282.45 L514.67 281.87 L516.25 281.29 L517.82 280.72 L519.39 280.14 L520.97 279.57 L522.54 279.01 L524.11 278.44 L525.69 277.88 L527.26 277.32 L528.84 276.77 L530.41 276.22 L531.98 275.67 L533.56 275.12 L535.13 274.57 L536.70 274.03 L538.28 273.49 L539.85 272.96 L541.43 272.42 L543.00 271.89 L544.57 271.36 L546.15 270.84 L547.72 270.31 L549.29 269.79 L550.87 269.28 L552.44 268.76 L554.02 268.25 L555.59 267.74 L557.16 267.23 L558.74 266.72 L560.31 266.22 L561.88 265.72 L563.46 265.22 L565.03 264.72 L566.61 264.23 L568.18 263.74 L569.75 263.25 L571.33 262.76 L572.90 262.27 L574.47 261.79 L576.05 261.31 L577.62 260.83 L579.20 260.36 L580.77 259.88 L582.34 259.41 L583.92 258.94 L585.49 258.47 L587.06 258.01 L588.64 257.55 L590.21 257.08 L591.79 256.63 L593.36 256.17 L594.93 255.71 L596.51 255.26 L598.08 254.81 L599.66 254.36 L601.23 253.91 L602.80 253.47 L604.38 253.03 L605.95 252.58 L607.52 252.15 L609.10 251.71 L610.67 251.27 L612.25 250.84 L613.82 250.41 L615.39 249.98 L616.97 249.55 L618.54 249.12 L620.11 248.70 L621.69 248.28 L623.26 247.86 L624.84 247.44 L626.41 247.02 L627.98 246.61 L629.56 246.19 L631.13 245.78 L632.70 245.37 L634.28 244.96 L635.85 244.56 L637.43 244.15 L639.00 243.75 L640.57 243.35 L642.15 242.95 L643.72 242.55 L645.29 242.15 L646.87 241.76 L648.44 241.36 L650.02 240.97 L651.59 240.58 L653.16 240.19 L654.74 239.81 L656.31 239.42 L657.88 239.04 L659.46 238.65 L661.03 238.27 L662.61 237.89 L664.18 237.52 L665.75 237.14 L667.33 236.77 L668.90 236.39 L670.48 236.02 L672.05 235.65 L673.62 235.28 L675.20 234.91 L676.77 234.55 L678.34 234.18 L679.92 233.82 L681.49 233.46 L683.07 233.10 L684.64 232.74 L686.21 232.38 L687.79 232.02 L689.36 231.67 L690.93 231.31 L692.51 230.96 L694.08 230.61 L695.66 230.26 L697.23 229.91 L698.80 229.57 L700.38 229.22 L701.95 228.88 L703.52 228.53 L705.10 228.19 L706.67 227.85 L708.25 227.51 L709.82 227.17 L711.39 226.84 L712.97 226.50 L714.54 226.17 L716.11 225.83 L717.69 225.50 L719.26 225.17 L720.84 224.84 L722.41 224.51 L723.98 224.19 L725.56 223.86 L727.13 223.54 L728.70 223.21 L730.28 222.89 L731.85 222.57 L733.43 222.25 L735.00 221.93 L736.57 221.61 L738.15 221.30 L739.72 220.98 L741.29 220.67 L742.87 220.35 L744.44 220.04 L746.02 219.73 L747.59 219.42 L749.16 219.11 L750.74 218.80 L752.31 218.50 L753.89 218.19 L755.46 217.89 L757.03 217.58 L758.61 217.28 L760.18 216.98 L761.75 216.68 L763.33 216.38 L764.90 216.08 L766.48 215.78 L768.05 215.49 L769.62 215.19 L771.20 214.90 L772.77 214.60 L774.34 214.31 L775.92 214.02 L777.49 213.73 L779.07 213.44 L780.64 213.15 L782.21 212.87 L783.79 212.58 L785.36 212.29 L786.93 212.01 L788.51 211.73 L790.08 211.44 L791.66 211.16 L793.23 210.88 L794.80 210.60 L796.38 210.32 L797.95 210.04 L799.52 209.77 L801.10 209.49 L802.67 209.21 L804.25 208.94 L805.82 208.67 L807.39 208.39 L808.97 208.12 L810.54 207.85 L812.11 207.58 L813.69 207.31 L815.26 207.04 L816.84 206.77 L818.41 206.51 L819.98 206.24 L821.56 205.98 L823.13 205.71 L824.70 205.45 L826.28 205.19 L827.85 204.93 L829.43 204.66 L831.00 204.40" stroke="#ff0000" stroke-width="1.7" stroke-dasharray="5 8.6" fill="none"/>
<path d="M178.21 479.75 L178.42 479.75 L178.63 479.75 L178.83 479.75 L179.04 479.75 L179.25 479.75 L179.46 479.75 L179.67 479.75 L179.88 479.75 L180.09 479.75 L180.30 479.75 L180.51 479.75 L180.71 479.75 L180.92 479.75 L181.13 479.75 L181.34 479.75 L181.55 479.75 L181.76 479.75 L181.97 479.75 L182.18 479.75 L182.39 479.75 L182.59 479.75 L182.80 479.75 L183.01 479.75 L183.22 479.75 L183.43 479.75 L183.64 479.75 L183.85 479.75 L184.06 479.75 L184.27 479.75 L184.47 479.75 L184.68 479.75 L184.89 479.75 L185.10 479.75 L185.31 479.74 L185.52 479.74 L185.73 479.74 L185.94 479.74 L186.15 479.74 L186.35 479.74 L186.56 479.74 L186.77 479.74 L186.98 479.74 L187.19 479.74 L187.40 479.74 L187.61 479.74 L187.82 479.74 L188.03 479.74 L188.23 479.74 L188.44 479.74 L188.65 479.73 L188.86 479.73 L189.07 479.73 L189.28 479.73 L189.49 479.73 L189.70 479.73 L189.91 479.73 L190.11 479.73 L190.32 479.73 L190.53 479.73 L190.74 479.72 L190.95 479.72 L191.16 479.72 L191.37 479.72 L191.58 479.72 L191.78 479.72 L191.99 479.72 L192.20 479.71 L192.41 479.71 L192.62 479.71 L192.83 479.71 L193.04 479.71 L193.25 479.71 L193.46 479.71 L193.66 479.70 L193.87 479.70 L194.08 479.70 L194.29 479.70 L194.50 479.70 L194.71 479.70 L194.92 479.69 L195.13 479.69 L195.34 479.69 L195.54 479.69 L195.75 479.69 L195.96 479.69 L196.17 479.68 L196.38 479.68 L196.59 479.68 L196.80 479.68 L197.01 479.68 L197.22 479.67 L197.42 479.67 L197.63 479.67 L197.84 479.67 L198.05 479.66 L198.26 479.66 L198.47 479.66 L198.68 479.66 L198.89 479.66 L199.10 479.65 L199.30 479.65 L199.51 479.65 L199.72 479.65 L199.93 479.64 L200.14 479.64 L200.35 479.64 L200.56 479.64 L200.77 479.63 L200.98 479.63 L201.18 479.63 L201.39 479.63 L201.60 479.62 L201.81 479.62 L202.02 479.62 L202.23 479.61 L202.44 479.61 L202.65 479.61 L202.86 479.61 L203.06 479.60 L204.64 479.58 L206.21 479.56 L207.79 479.53 L209.36 479.51 L210.93 479.48 L212.51 479.45 L214.08 479.42 L215.65 479.39 L217.23 479.36 L218.80 479.32 L220.38 479.29 L221.95 479.25 L223.52 479.22 L225.10 479.18 L226.67 479.14 L228.24 479.10 L229.82 479.06 L231.39 479.02 L232.97 478.98 L234.54 478.94 L236.11 478.90 L237.69 478.85 L239.26 478.81 L240.83 478.77 L242.41 478.72 L243.98 478.68 L245.56 478.63 L247.13 478.58 L248.70 478.54 L250.28 478.49 L251.85 478.44 L253.42 478.39 L255.00 478.34 L256.57 478.29 L258.15 478.24 L259.72 478.19 L261.29 478.14 L262.87 478.09 L264.44 478.04 L266.01 477.99 L267.59 477.94 L269.16 477.88 L270.74 477.83 L272.31 477.78 L273.88 477.73 L275.46 477.67 L277.03 477.62 L278.61 477.56 L280.18 477.51 L281.75 477.46 L283.33 477.40 L284.90 477.35 L286.47 477.29 L288.05 477.24 L289.62 477.18 L291.20 477.13 L292.77 477.07 L294.34 477.01 L295.92 476.96 L297.49 476.90 L299.06 476.84 L300.64 476.79 L302.21 476.73 L303.79 476.67 L305.36 476.62 L306.93 476.56 L308.51 476.50 L310.08 476.45 L311.65 476.39 L313.23 476.33 L314.80 476.27 L316.38 476.21 L317.95 476.16 L319.52 476.10 L321.10 476.04 L322.67 475.98 L324.24 475.92 L325.82 475.87 L327.39 475.81 L328.97 475.75 L330.54 475.69 L332.11 475.63 L333.69 475.57 L335.26 475.52 L336.83 475.46 L338.41 475.40 L339.98 475.34 L341.56 475.28 L343.13 475.22 L344.70 475.16 L346.28 475.10 L347.85 475.04 L349.43 474.99 L351.00 474.93 L352.57 474.87 L354.15 474.81 L355.72 474.75 L357.29 474.69 L358.87 474.63 L360.44 474.57 L362.02 474.51 L363.59 474.45 L365.16 474.39 L366.74 474.34 L368.31 474.28 L369.88 474.22 L371.46 474.16 L373.03 474.10 L374.61 474.04 L376.18 473.98 L377.75 473.92 L379.33 473.86 L380.90 473.80 L382.47 473.74 L384.05 473.68 L385.62 473.62 L387.20 473.57 L388.77 473.51 L390.34 473.45 L391.92 473.39 L393.49 473.33 L395.06 473.27 L396.64 473.21 L398.21 473.15 L399.79 473.09 L401.36 473.03 L402.93 472.97 L404.51 472.92 L406.08 472.86 L407.65 472.80 L409.23 472.74 L410.80 472.68 L412.38 472.62 L413.95 472.56 L415.52 472.50 L417.10 472.45 L418.67 472.39 L420.24 472.33 L421.82 472.27 L423.39 472.21 L424.97 472.15 L426.54 472.09 L428.11 472.03 L429.69 471.98 L431.26 471.92 L432.84 471.86 L434.41 471.80 L435.98 471.74 L437.56 471.68 L439.13 471.63 L440.70 471.57 L442.28 471.51 L443.85 471.45 L445.43 471.39 L447.00 471.34 L448.57 471.28 L450.15 471.22 L451.72 471.16 L453.29 471.10 L454.87 471.05 L456.44 470.99 L458.02 470.93 L459.59 470.87 L461.16 470.81 L462.74 470.76 L464.31 470.70 L465.88 470.64 L467.46 470.58 L469.03 470.53 L470.61 470.47 L472.18 470.41 L473.75 470.35 L475.33 470.30 L476.90 470.24 L478.47 470.18 L480.05 470.13 L481.62 470.07 L483.20 470.01 L484.77 469.95 L486.34 469.90 L487.92 469.84 L489.49 469.78 L491.06 469.73 L492.64 469.67 L494.21 469.61 L495.79 469.56 L497.36 469.50 L498.93 469.44 L500.51 469.39 L502.08 469.33 L503.65 469.27 L505.23 469.22 L506.80 469.16 L508.38 469.11 L509.95 469.05 L511.52 468.99 L513.10 468.94 L514.67 468.88 L516.25 468.83 L517.82 468.77 L519.39 468.71 L520.97 468.66 L522.54 468.60 L524.11 468.55 L525.69 468.49 L527.26 468.44 L528.84 468.38 L530.41 468.32 L531.98 468.27 L533.56 468.21 L535.13 468.16 L536.70 468.10 L538.28 468.05 L539.85 467.99 L541.43 467.94 L543.00 467.88 L544.57 467.83 L546.15 467.77 L547.72 467.72 L549.29 467.66 L550.87 467.61 L552.44 467.55 L554.02 467.50 L555.59 467.44 L557.16 467.39 L558.74 467.33 L560.31 467.28 L561.88 467.22 L563.46 467.17 L565.03 467.12 L566.61 467.06 L568.18 467.01 L569.75 466.95 L571.33 466.90 L572.90 466.85 L574.47 466.79 L576.05 466.74 L577.62 466.68 L579.20 466.63 L580.77 466.58 L582.34 466.52 L583.92 466.47 L585.49 466.41 L587.06 466.36 L588.64 466.31 L590.21 466.25 L591.79 466.20 L593.36 466.15 L594.93 466.09 L596.51 466.04 L598.08 465.99 L599.66 465.93 L601.23 465.88 L602.80 465.83 L604.38 465.77 L605.95 465.72 L607.52 465.67 L609.10 465.62 L610.67 465.56 L612.25 465.51 L613.82 465.46 L615.39 465.41 L616.97 465.35 L618.54 465.30 L620.11 465.25 L621.69 465.20 L623.26 465.14 L624.84 465.09 L626.41 465.04 L627.98 464.99 L629.56 464.93 L631.13 464.88 L632.70 464.83 L634.28 464.78 L635.85 464.73 L637.43 464.67 L639.00 464.62 L640.57 464.57 L642.15 464.52 L643.72 464.47 L645.29 464.41 L646.87 464.36 L648.44 464.31 L650.02 464.26 L651.59 464.21 L653.16 464.16 L654.74 464.11 L656.31 464.05 L657.88 464.00 L659.46 463.95 L661.03 463.90 L662.61 463.85 L664.18 463.80 L665.75 463.75 L667.33 463.70 L668.90 463.65 L670.48 463.60 L672.05 463.54 L673.62 463.49 L675.20 463.44 L676.77 463.39 L678.34 463.34 L679.92 463.29 L681.49 463.24 L683.07 463.19 L684.64 463.14 L686.21 463.09 L687.79 463.04 L689.36 462.99 L690.93 462.94 L692.51 462.89 L694.08 462.84 L695.66 462.79 L697.23 462.74 L698.80 462.69 L700.38 462.64 L701.95 462.59 L703.52 462.54 L705.10 462.49 L706.67 462.44 L708.25 462.39 L709.82 462.34 L711.39 462.29 L712.97 462.24 L714.54 462.19 L716.11 462.14 L717.69 462.09 L719.26 462.05 L720.84 462.00 L722.41 461.95 L723.98 461.90 L725.56 461.85 L727.13 461.80 L728.70 461.75 L730.28 461.70 L731.85 461.65 L733.43 461.60 L735.00 461.56 L736.57 461.51 L738.15 461.46 L739.72 461.41 L741.29 461.36 L742.87 461.31 L744.44 461.26 L746.02 461.22 L747.59 461.17 L749.16 461.12 L750.74 461.07 L752.31 461.02 L753.89 460.97 L755.46 460.93 L757.03 460.88 L758.61 460.83 L760.18 460.78 L761.75 460.73 L763.33 460.69 L764.90 460.64 L766.48 460.59 L768.05 460.54 L769.62 460.49 L771.20 460.45 L772.77 460.40 L774.34 460.35 L775.92 460.30 L777.49 460.26 L779.07 460.21 L780.64 460.16 L782.21 460.11 L783.79 460.07 L785.36 460.02 L786.93 459.97 L788.51 459.92 L790.08 459.88 L791.66 459.83 L793.23 459.78 L794.80 459.74 L796.38 459.69 L797.95 459.64 L799.52 459.60 L801.10 459.55 L802.67 459.50 L804.25 459.46 L805.82 459.41 L807.39 459.36 L808.97 459.32 L810.54 459.27 L812.11 459.22 L813.69 459.18 L815.26 459.13 L816.84 459.08 L818.41 459.04 L819.98 458.99 L821.56 458.94 L823.13 458.90 L824.70 458.85 L826.28 458.81 L827.85 458.76 L829.43 458.71 L831.00 458.67" stroke="#00ff00" stroke-width="2.8" fill="none" stroke-linejoin="round"/>
<path d="M178.21 479.75 L178.42 479.75 L178.63 479.75 L178.83 479.75 L179.04 479.75 L179.25 479.75 L179.46 479.75 L179.67 479.75 L179.88 479.75 L180.09 479.75 L180.30 479.75 L180.51 479.75 L180.71 479.75 L180.92 479.75 L181.13 479.75 L181.34 479.75 L181.55 479.75 L181.76 479.75 L181.97 479.75 L182.18 479.75 L182.39 479.75 L182.59 479.75 L182.80 479.75 L183.01 479.75 L183.22 479.75 L183.43 479.75 L183.64 479.75 L183.85 479.75 L184.06 479.75 L184.27 479.75 L184.47 479.75 L184.68 479.75 L184.89 479.75 L185.10 479.75 L185.31 479.75 L185.52 479.75 L185.73 479.75 L185.94 479.75 L186.15 479.75 L186.35 479.75 L186.56 479.75 L186.77 479.75 L186.98 479.75 L187.19 479.75 L187.40 479.75 L187.61 479.75 L187.82 479.75 L188.03 479.75 L188.23 479.75 L188.44 479.75 L188.65 479.75 L188.86 479.75 L189.07 479.75 L189.28 479.75 L189.49 479.75 L189.70 479.75 L189.91 479.75 L190.11 479.75 L190.32 479.75 L190.53 479.75 L190.74 479.75 L190.95 479.75 L191.16 479.75 L191.37 479.75 L191.58 479.75 L191.78 479.75 L191.99 479.75 L192.20 479.75 L192.41 479.75 L192.62 479.75 L192.83 479.75 L193.04 479.75 L193.25 479.75 L193.46 479.75 L193.66 479.75 L193.87 479.75 L194.08 479.75 L194.29 479.75 L194.50 479.75 L194.71 479.75 L194.92 479.75 L195.13 479.75 L195.34 479.75 L195.54 479.75 L195.75 479.75 L195.96 479.75 L196.17 479.75 L196.38 479.75 L196.59 479.75 L196.80 479.75 L197.01 479.75 L197.22 479.75 L197.42 479.75 L197.63 479.75 L197.84 479.75 L198.05 479.75 L198.26 479.75 L198.47 479.75 L198.68 479.75 L198.89 479.75 L199.10 479.75 L199.30 479.75 L199.51 479.75 L199.72 479.75 L199.93 479.75 L200.14 479.75 L200.35 479.75 L200.56 479.75 L200.77 479.75 L200.98 479.75 L201.18 479.75 L201.39 479.75 L201.60 479.75 L201.81 479.75 L202.02 479.75 L202.23 479.75 L202.44 479.75 L202.65 479.75 L202.86 479.75 L203.06 479.75 L204.64 479.75 L206.21 479.75 L207.79 479.75 L209.36 479.75 L210.93 479.75 L212.51 479.75 L214.08 479.75 L215.65 479.75 L217.23 479.75 L218.80 479.75 L220.38 479.75 L221.95 479.75 L223.52 479.75 L225.10 479.75 L226.67 479.75 L228.24 479.75 L229.82 479.75 L231.39 479.75 L232.97 479.75 L234.54 479.75 L236.11 479.75 L237.69 479.75 L239.26 479.75 L240.83 479.75 L242.41 479.75 L243.98 479.75 L245.56 479.75 L247.13 479.75 L248.70 479.75 L250.28 479.75 L251.85 479.75 L253.42 479.75 L255.00 479.75 L256.57 479.75 L258.15 479.75 L259.72 479.75 L261.29 479.74 L262.87 479.74 L264.44 479.74 L266.01 479.74 L267.59 479.74 L269.16 479.74 L270.74 479.73 L272.31 479.73 L273.88 479.73 L275.46 479.73 L277.03 479.72 L278.61 479.72 L280.18 479.71 L281.75 479.71 L283.33 479.70 L284.90 479.70 L286.47 479.69 L288.05 479.68 L289.62 479.68 L291.20 479.67 L292.77 479.66 L294.34 479.65 L295.92 479.64 L297.49 479.63 L299.06 479.62 L300.64 479.60 L302.21 479.59 L303.79 479.58 L305.36 479.56 L306.93 479.55 L308.51 479.53 L310.08 479.51 L311.65 479.49 L313.23 479.47 L314.80 479.45 L316.38 479.43 L317.95 479.40 L319.52 479.38 L321.10 479.35 L322.67 479.33 L324.24 479.30 L325.82 479.27 L327.39 479.24 L328.97 479.21 L330.54 479.17 L332.11 479.14 L333.69 479.10 L335.26 479.06 L336.83 479.03 L338.41 478.99 L339.98 478.94 L341.56 478.90 L343.13 478.86 L344.70 478.81 L346.28 478.76 L347.85 478.71 L349.43 478.66 L351.00 478.61 L352.57 478.56 L354.15 478.50 L355.72 478.45 L357.29 478.39 L358.87 478.33 L360.44 478.27 L362.02 478.21 L363.59 478.14 L365.16 478.07 L366.74 478.01 L368.31 477.94 L369.88 477.87 L371.46 477.80 L373.03 477.72 L374.61 477.65 L376.18 477.57 L377.75 477.49 L379.33 477.41 L380.90 477.33 L382.47 477.24 L384.05 477.16 L385.62 477.07 L387.20 476.98 L388.77 476.89 L390.34 476.80 L391.92 476.71 L393.49 476.62 L395.06 476.52 L396.64 476.42 L398.21 476.32 L399.79 476.22 L401.36 476.12 L402.93 476.01 L404.51 475.91 L406.08 475.80 L407.65 475.69 L409.23 475.58 L410.80 475.47 L412.38 475.36 L413.95 475.24 L415.52 475.13 L417.10 475.01 L418.67 474.89 L420.24 474.77 L421.82 474.65 L423.39 474.52 L424.97 474.40 L426.54 474.27 L428.11 474.14 L429.69 474.02 L431.26 473.88 L432.84 473.75 L434.41 473.62 L435.98 473.48 L437.56 473.35 L439.13 473.21 L440.70 473.07 L442.28 472.93 L443.85 472.79 L445.43 472.65 L447.00 472.50 L448.57 472.36 L450.15 472.21 L451.72 472.06 L453.29 471.91 L454.87 471.76 L456.44 471.61 L458.02 471.46 L459.59 471.30 L461.16 471.15 L462.74 470.99 L464.31 470.84 L465.88 470.68 L467.46 470.52 L469.03 470.36 L470.61 470.19 L472.18 470.03 L473.75 469.86 L475.33 469.70 L476.90 469.53 L478.47 469.36 L480.05 469.20 L481.62 469.03 L483.20 468.86 L484.77 468.68 L486.34 468.51 L487.92 468.34 L489.49 468.16 L491.06 467.99 L492.64 467.81 L494.21 467.63 L495.79 467.45 L497.36 467.27 L498.93 467.09 L500.51 466.91 L502.08 466.73 L503.65 466.54 L505.23 466.36 L506.80 466.17 L508.38 465.99 L509.95 465.80 L511.52 465.61 L513.10 465.42 L514.67 465.23 L516.25 465.04 L517.82 464.85 L519.39 464.66 L520.97 464.47 L522.54 464.28 L524.11 464.08 L525.69 463.89 L527.26 463.69 L528.84 463.49 L530.41 463.30 L531.98 463.10 L533.56 462.90 L535.13 462.70 L536.70 462.50 L538.28 462.30 L539.85 462.10 L541.43 461.90 L543.00 461.70 L544.57 461.49 L546.15 461.29 L547.72 461.08 L549.29 460.88 L550.87 460.67 L552.44 460.47 L554.02 460.26 L555.59 460.05 L557.16 459.84 L558.74 459.64 L560.31 459.43 L561.88 459.22 L563.46 459.01 L565.03 458.80 L566.61 458.58 L568.18 458.37 L569.75 458.16 L571.33 457.95 L572.90 457.73 L574.47 457.52 L576.05 457.31 L577.62 457.09 L579.20 456.88 L580.77 456.66 L582.34 456.45 L583.92 456.23 L585.49 456.01 L587.06 455.79 L588.64 455.58 L590.21 455.36 L591.79 455.14 L593.36 454.92 L594.93 454.70 L596.51 454.48 L598.08 454.26 L599.66 454.04 L601.23 453.82 L602.80 453.60 L604.38 453.38 L605.95 453.16 L607.52 452.93 L609.10 452.71 L610.67 452.49 L612.25 452.27 L613.82 452.04 L615.39 451.82 L616.97 451.60 L618.54 451.37 L620.11 451.15 L621.69 450.92 L623.26 450.70 L624.84 450.47 L626.41 450.25 L627.98 450.02 L629.56 449.79 L631.13 449.57 L632.70 449.34 L634.28 449.11 L635.85 448.89 L637.43 448.66 L639.00 448.43 L640.57 448.20 L642.15 447.98 L643.72 447.75 L645.29 447.52 L646.87 447.29 L648.44 447.06 L650.02 446.83 L651.59 446.61 L653.16 446.38 L654.74 446.15 L656.31 445.92 L657.88 445.69 L659.46 445.46 L661.03 445.23 L662.61 445.00 L664.18 444.77 L665.75 444.54 L667.33 444.31 L668.90 444.08 L670.48 443.85 L672.05 443.61 L673.62 443.38 L675.20 443.15 L676.77 442.92 L678.34 442.69 L679.92 442.46 L681.49 442.23 L683.07 442.00 L684.64 441.76 L686.21 441.53 L687.79 441.30 L689.36 441.07 L690.93 440.84 L692.51 440.61 L694.08 440.37 L695.66 440.14 L697.23 439.91 L698.80 439.68 L700.38 439.44 L701.95 439.21 L703.52 438.98 L705.10 438.75 L706.67 438.52 L708.25 438.28 L709.82 438.05 L711.39 437.82 L712.97 437.59 L714.54 437.35 L716.11 437.12 L717.69 436.89 L719.26 436.66 L720.84 436.42 L722.41 436.19 L723.98 435.96 L725.56 435.73 L727.13 435.49 L728.70 435.26 L730.28 435.03 L731.85 434.80 L733.43 434.56 L735.00 434.33 L736.57 434.10 L738.15 433.87 L739.72 433.63 L741.29 433.40 L742.87 433.17 L744.44 432.94 L746.02 432.70 L747.59 432.47 L749.16 432.24 L750.74 432.01 L752.31 431.78 L753.89 431.54 L755.46 431.31 L757.03 431.08 L758.61 430.85 L760.18 430.62 L761.75 430.38 L763.33 430.15 L764.90 429.92 L766.48 429.69 L768.05 429.46 L769.62 429.23 L771.20 429.00 L772.77 428.76 L774.34 428.53 L775.92 428.30 L777.49 428.07 L779.07 427.84 L780.64 427.61 L782.21 427.38 L783.79 427.15 L785.36 426.92 L786.93 426.69 L788.51 426.46 L790.08 426.23 L791.66 426.00 L793.23 425.77 L794.80 425.54 L796.38 425.31 L797.95 425.08 L799.52 424.85 L801.10 424.62 L802.67 424.39 L804.25 424.16 L805.82 423.93 L807.39 423.70 L808.97 423.47 L810.54 423.24 L812.11 423.01 L813.69 422.78 L815.26 422.56 L816.84 422.33 L818.41 422.10 L819.98 421.87 L821.56 421.64 L823.13 421.42 L824.70 421.19 L826.28 420.96 L827.85 420.73 L829.43 420.51 L831.00 420.28" stroke="#00ff00" stroke-width="1.7" stroke-dasharray="5 8.6" fill="none"/>
<rect x="176.9" y="9.6" width="654.1" height="470.4" fill="none" stroke="#000" stroke-width="1.5"/>
<g font-size="26">
<text x="161.9" y="488.25" text-anchor="end">0</text>
<text x="161.9" y="436.01" text-anchor="end">0.1</text>
<text x="161.9" y="383.77" text-anchor="end">0.2</text>
<text x="161.9" y="331.53" text-anchor="end">0.3</text>
<text x="161.9" y="279.29" text-anchor="end">0.4</text>
<text x="161.9" y="227.06" text-anchor="end">0.5</text>
<text x="161.9" y="174.82" text-anchor="end">0.6</text>
<text x="161.9" y="122.58" text-anchor="end">0.7</text>
<text x="161.9" y="70.34" text-anchor="end">0.8</text>
<text x="161.9" y="18.10" text-anchor="end">0.9</text>
<text x="180.40" y="513.1" text-anchor="middle">0</text>
<text x="311.22" y="513.1" text-anchor="middle">1</text>
<text x="442.04" y="513.1" text-anchor="middle">2</text>
<text x="572.86" y="513.1" text-anchor="middle">3</text>
<text x="703.68" y="513.1" text-anchor="middle">4</text>
<text x="834.50" y="513.1" text-anchor="middle">5</text>
<text x="535" y="321.2" text-anchor="middle">x=2.0</text>
<text x="535" y="86.2" text-anchor="middle">x=0.5</text>
<text x="535" y="446.6" text-anchor="middle">x=5.0</text>
</g>
<text x="504" y="553.5" text-anchor="middle" font-size="33">t</text>
<text transform="translate(84.0,244.4) rotate(-90) scale(0.96,1)" text-anchor="middle" font-size="33">C<tspan font-size="27.7" dy="10.1">1</tspan><tspan dy="-10.1">(x,t)/C</tspan><tspan font-size="27.7" dy="10.1">0</tspan><tspan dy="-10.1">, C</tspan><tspan font-size="27.7" dy="10.1">1/2</tspan><tspan dy="-10.1">(x,t)/C</tspan><tspan font-size="27.7" dy="10.1">0</tspan></text>
<g class="serif"><text transform="translate(-1.3,561) scale(0.84,1.07)" font-size="49">(</text><text transform="translate(13.1,560) scale(1.18,1)" font-size="45">a</text><text transform="translate(37.1,561) scale(0.84,1.07)" font-size="49">)</text></g>
</g>
<g id="pb">
<path d="M1111.20 479.75 V472.25 M1111.20 9.85 V17.35 M1192.94 479.75 V472.25 M1192.94 9.85 V17.35 M1274.69 479.75 V472.25 M1274.69 9.85 V17.35 M1356.43 479.75 V472.25 M1356.43 9.85 V17.35 M1438.17 479.75 V472.25 M1438.17 9.85 V17.35 M1519.91 479.75 V472.25 M1519.91 9.85 V17.35 M1601.66 479.75 V472.25 M1601.66 9.85 V17.35 M1683.40 479.75 V472.25 M1683.40 9.85 V17.35 M1070.33 479.75 H1077.83 M1724.27 479.75 H1716.77 M1070.33 385.77 H1077.83 M1724.27 385.77 H1716.77 M1070.33 291.79 H1077.83 M1724.27 291.79 H1716.77 M1070.33 197.81 H1077.83 M1724.27 197.81 H1716.77 M1070.33 103.83 H1077.83 M1724.27 103.83 H1716.77 M1070.33 9.85 H1077.83 M1724.27 9.85 H1716.77" stroke="#000" stroke-width="1" fill="none"/>
<path d="M1070.33 478.38 L1071.64 478.20 L1072.95 478.00 L1074.26 477.77 L1075.57 477.53 L1076.88 477.26 L1078.19 476.97 L1079.50 476.65 L1080.81 476.30 L1082.12 475.92 L1083.44 475.51 L1084.75 475.07 L1086.06 474.59 L1087.37 474.08 L1088.68 473.53 L1089.99 472.94 L1091.30 472.30 L1092.61 471.63 L1093.92 470.91 L1095.23 470.14 L1096.54 469.33 L1097.85 468.47 L1099.16 467.56 L1100.47 466.60 L1101.78 465.59 L1103.09 464.52 L1104.40 463.40 L1105.71 462.23 L1107.02 460.99 L1108.33 459.71 L1109.65 458.36 L1110.96 456.96 L1112.27 455.50 L1113.58 453.98 L1114.89 452.40 L1116.20 450.76 L1117.51 449.06 L1118.82 447.31 L1120.13 445.49 L1121.44 443.61 L1122.75 441.68 L1124.06 439.69 L1125.37 437.63 L1126.68 435.53 L1127.99 433.36 L1129.30 431.14 L1130.61 428.86 L1131.92 426.53 L1133.23 424.14 L1134.54 421.70 L1135.86 419.21 L1137.17 416.67 L1138.48 414.08 L1139.79 411.44 L1141.10 408.76 L1142.41 406.03 L1143.72 403.25 L1145.03 400.43 L1146.34 397.57 L1147.65 394.68 L1148.96 391.74 L1150.27 388.76 L1151.58 385.75 L1152.89 382.71 L1154.20 379.64 L1155.51 376.53 L1156.82 373.40 L1158.13 370.24 L1159.44 367.05 L1160.75 363.84 L1162.07 360.60 L1163.38 357.35 L1164.69 354.08 L1166.00 350.79 L1167.31 347.48 L1168.62 344.16 L1169.93 340.83 L1171.24 337.48 L1172.55 334.13 L1173.86 330.76 L1175.17 327.39 L1176.48 324.02 L1177.79 320.64 L1179.10 317.26 L1180.41 313.88 L1181.72 310.49 L1183.03 307.11 L1184.34 303.74 L1185.65 300.36 L1186.96 296.99 L1188.28 293.63 L1189.59 290.28 L1190.90 286.93 L1192.21 283.59 L1193.52 280.27 L1194.83 276.96 L1196.14 273.65 L1197.45 270.37 L1198.76 267.09 L1200.07 263.84 L1201.38 260.60 L1202.69 257.37 L1204.00 254.17 L1205.31 250.98 L1206.62 247.81 L1207.93 244.67 L1209.24 241.54 L1210.55 238.43 L1211.86 235.35 L1213.17 232.29 L1214.49 229.25 L1215.80 226.24 L1217.11 223.25 L1218.42 220.28 L1219.73 217.34 L1221.04 214.42 L1222.35 211.53 L1223.66 208.67 L1224.97 205.83 L1226.28 203.02 L1227.59 200.23 L1228.90 197.47 L1230.21 194.74 L1231.52 192.04 L1232.83 189.36 L1234.14 186.71 L1235.45 184.09 L1236.76 181.50 L1238.07 178.93 L1239.38 176.39 L1240.70 173.89 L1242.01 171.41 L1243.32 168.95 L1244.63 166.53 L1245.94 164.13 L1247.25 161.77 L1248.56 159.43 L1249.87 157.12 L1251.18 154.83 L1252.49 152.58 L1253.80 150.35 L1255.11 148.15 L1256.42 145.98 L1257.73 143.84 L1259.04 141.72 L1260.35 139.63 L1261.66 137.57 L1262.97 135.54 L1264.28 133.53 L1265.59 131.55 L1266.91 129.60 L1268.22 127.67 L1269.53 125.77 L1270.84 123.89 L1272.15 122.05 L1273.46 120.22 L1274.77 118.42 L1276.08 116.65 L1277.39 114.91 L1278.70 113.18 L1280.01 111.49 L1281.32 109.81 L1282.63 108.16 L1283.94 106.54 L1285.25 104.94 L1286.56 103.36 L1287.87 101.80 L1289.18 100.27 L1290.49 98.76 L1291.80 97.28 L1293.12 95.81 L1294.43 94.37 L1295.74 92.95 L1297.05 91.56 L1298.36 90.18 L1299.67 88.82 L1300.98 87.49 L1302.29 86.17 L1303.60 84.88 L1304.91 83.61 L1306.22 82.35 L1307.53 81.12 L1308.84 79.90 L1310.15 78.71 L1311.46 77.53 L1312.77 76.37 L1314.08 75.23 L1315.39 74.11 L1316.70 73.00 L1318.01 71.92 L1319.33 70.85 L1320.64 69.80 L1321.95 68.76 L1323.26 67.75 L1324.57 66.74 L1325.88 65.76 L1327.19 64.79 L1328.50 63.84 L1329.81 62.90 L1331.12 61.98 L1332.43 61.07 L1333.74 60.18 L1335.05 59.30 L1336.36 58.44 L1337.67 57.59 L1338.98 56.76 L1340.29 55.93 L1341.60 55.13 L1342.91 54.33 L1344.22 53.55 L1345.54 52.79 L1346.85 52.03 L1348.16 51.29 L1349.47 50.56 L1350.78 49.85 L1352.09 49.14 L1353.40 48.45 L1354.71 47.77 L1356.02 47.10 L1357.33 46.44 L1358.64 45.79 L1359.95 45.16 L1361.26 44.53 L1362.57 43.92 L1363.88 43.32 L1365.19 42.72 L1366.50 42.14 L1367.81 41.57 L1369.12 41.00 L1370.43 40.45 L1371.75 39.91 L1373.06 39.37 L1374.37 38.85 L1375.68 38.33 L1376.99 37.82 L1378.30 37.32 L1379.61 36.83 L1380.92 36.35 L1382.23 35.88 L1383.54 35.41 L1384.85 34.96 L1386.16 34.51 L1387.47 34.07 L1388.78 33.63 L1390.09 33.21 L1391.40 32.79 L1392.71 32.38 L1394.02 31.98 L1395.33 31.58 L1396.64 31.19 L1397.96 30.81 L1399.27 30.43 L1400.58 30.06 L1401.89 29.70 L1403.20 29.34 L1404.51 28.99 L1405.82 28.65 L1407.13 28.31 L1408.44 27.98 L1409.75 27.65 L1411.06 27.33 L1412.37 27.02 L1413.68 26.71 L1414.99 26.40 L1416.30 26.11 L1417.61 25.81 L1418.92 25.53 L1420.23 25.24 L1421.54 24.97 L1422.85 24.69 L1424.17 24.42 L1425.48 24.16 L1426.79 23.90 L1428.10 23.65 L1429.41 23.40 L1430.72 23.16 L1432.03 22.92 L1433.34 22.68 L1434.65 22.45 L1435.96 22.22 L1437.27 22.00 L1438.58 21.78 L1439.89 21.56 L1441.20 21.35 L1442.51 21.14 L1443.82 20.94 L1445.13 20.74 L1446.44 20.54 L1447.75 20.34 L1449.06 20.15 L1450.38 19.97 L1451.69 19.78 L1453.00 19.60 L1454.31 19.43 L1455.62 19.25 L1456.93 19.08 L1458.24 18.92 L1459.55 18.75 L1460.86 18.59 L1462.17 18.43 L1463.48 18.28 L1464.79 18.12 L1466.10 17.97 L1467.41 17.82 L1468.72 17.68 L1470.03 17.54 L1471.34 17.40 L1472.65 17.26 L1473.96 17.13 L1475.27 16.99 L1476.59 16.86 L1477.90 16.74 L1479.21 16.61 L1480.52 16.49 L1481.83 16.37 L1483.14 16.25 L1484.45 16.13 L1485.76 16.02 L1487.07 15.91 L1488.38 15.80 L1489.69 15.69 L1491.00 15.58 L1492.31 15.48 L1493.62 15.38 L1494.93 15.27 L1496.24 15.18 L1497.55 15.08 L1498.86 14.98 L1500.17 14.89 L1501.48 14.80 L1502.80 14.71 L1504.11 14.62 L1505.42 14.53 L1506.73 14.45 L1508.04 14.36 L1509.35 14.28 L1510.66 14.20 L1511.97 14.12 L1513.28 14.04 L1514.59 13.97 L1515.90 13.89 L1517.21 13.82 L1518.52 13.75 L1519.83 13.68 L1521.14 13.61 L1522.45 13.54 L1523.76 13.47 L1525.07 13.40 L1526.38 13.34 L1527.69 13.28 L1529.01 13.21 L1530.32 13.15 L1531.63 13.09 L1532.94 13.03 L1534.25 12.97 L1535.56 12.92 L1536.87 12.86 L1538.18 12.81 L1539.49 12.75 L1540.80 12.70 L1542.11 12.65 L1543.42 12.60 L1544.73 12.55 L1546.04 12.50 L1547.35 12.45 L1548.66 12.40 L1549.97 12.36 L1551.28 12.31 L1552.59 12.26 L1553.90 12.22 L1555.22 12.18 L1556.53 12.13 L1557.84 12.09 L1559.15 12.05 L1560.46 12.01 L1561.77 11.97 L1563.08 11.93 L1564.39 11.90 L1565.70 11.86 L1567.01 11.82 L1568.32 11.79 L1569.63 11.75 L1570.94 11.72 L1572.25 11.68 L1573.56 11.65 L1574.87 11.62 L1576.18 11.58 L1577.49 11.55 L1578.80 11.52 L1580.11 11.49 L1581.43 11.46 L1582.74 11.43 L1584.05 11.40 L1585.36 11.37 L1586.67 11.35 L1587.98 11.32 L1589.29 11.29 L1590.60 11.27 L1591.91 11.24 L1593.22 11.21 L1594.53 11.19 L1595.84 11.16 L1597.15 11.14 L1598.46 11.12 L1599.77 11.09 L1601.08 11.07 L1602.39 11.05 L1603.70 11.03 L1605.01 11.01 L1606.32 10.98 L1607.64 10.96 L1608.95 10.94 L1610.26 10.92 L1611.57 10.90 L1612.88 10.88 L1614.19 10.87 L1615.50 10.85 L1616.81 10.83 L1618.12 10.81 L1619.43 10.79 L1620.74 10.78 L1622.05 10.76 L1623.36 10.74 L1624.67 10.73 L1625.98 10.71 L1627.29 10.69 L1628.60 10.68 L1629.91 10.66 L1631.22 10.65 L1632.53 10.63 L1633.85 10.62 L1635.16 10.61 L1636.47 10.59 L1637.78 10.58 L1639.09 10.57 L1640.40 10.55 L1641.71 10.54 L1643.02 10.53 L1644.33 10.51 L1645.64 10.50 L1646.95 10.49 L1648.26 10.48 L1649.57 10.47 L1650.88 10.46 L1652.19 10.45 L1653.50 10.43 L1654.81 10.42 L1656.12 10.41 L1657.43 10.40 L1658.74 10.39 L1660.06 10.38 L1661.37 10.37 L1662.68 10.36 L1663.99 10.35 L1665.30 10.34 L1666.61 10.34 L1667.92 10.33 L1669.23 10.32 L1670.54 10.31 L1671.85 10.30 L1673.16 10.29 L1674.47 10.28 L1675.78 10.28 L1677.09 10.27 L1678.40 10.26 L1679.71 10.25 L1681.02 10.25 L1682.33 10.24 L1683.64 10.23 L1684.95 10.23 L1686.27 10.22 L1687.58 10.21 L1688.89 10.20 L1690.20 10.20 L1691.51 10.19 L1692.82 10.19 L1694.13 10.18 L1695.44 10.17 L1696.75 10.17 L1698.06 10.16 L1699.37 10.16 L1700.68 10.15 L1701.99 10.15 L1703.30 10.14 L1704.61 10.13 L1705.92 10.13 L1707.23 10.12 L1708.54 10.12 L1709.85 10.11 L1711.16 10.11 L1712.48 10.10 L1713.79 10.10 L1715.10 10.10 L1716.41 10.09 L1717.72 10.09 L1719.03 10.08 L1720.34 10.08 L1721.65 10.07 L1722.96 10.07 L1724.27 10.07" stroke="#0000ff" stroke-width="2.8" fill="none" stroke-linejoin="round"/>
<path d="M1070.33 479.75 L1071.64 479.75 L1072.95 479.75 L1074.26 479.75 L1075.57 479.75 L1076.88 479.75 L1078.19 479.75 L1079.50 479.75 L1080.81 479.75 L1082.12 479.75 L1083.44 479.75 L1084.75 479.75 L1086.06 479.75 L1087.37 479.75 L1088.68 479.75 L1089.99 479.75 L1091.30 479.75 L1092.61 479.75 L1093.92 479.75 L1095.23 479.75 L1096.54 479.75 L1097.85 479.75 L1099.16 479.75 L1100.47 479.75 L1101.78 479.75 L1103.09 479.75 L1104.40 479.75 L1105.71 479.75 L1107.02 479.75 L1108.33 479.75 L1109.65 479.75 L1110.96 479.75 L1112.27 479.75 L1113.58 479.75 L1114.89 479.75 L1116.20 479.75 L1117.51 479.75 L1118.82 479.75 L1120.13 479.75 L1121.44 479.75 L1122.75 479.75 L1124.06 479.75 L1125.37 479.75 L1126.68 479.75 L1127.99 479.75 L1129.30 479.75 L1130.61 479.75 L1131.92 479.75 L1133.23 479.75 L1134.54 479.75 L1135.86 479.75 L1137.17 479.75 L1138.48 479.75 L1139.79 479.75 L1141.10 479.75 L1142.41 479.75 L1143.72 479.75 L1145.03 479.75 L1146.34 479.75 L1147.65 479.75 L1148.96 479.75 L1150.27 479.75 L1151.58 479.75 L1152.89 479.75 L1154.20 479.75 L1155.51 479.75 L1156.82 479.75 L1158.13 479.75 L1159.44 479.75 L1160.75 479.75 L1162.07 479.75 L1163.38 479.75 L1164.69 479.75 L1166.00 479.75 L1167.31 479.75 L1168.62 479.75 L1169.93 479.75 L1171.24 479.75 L1172.55 479.75 L1173.86 479.75 L1175.17 479.75 L1176.48 479.75 L1177.79 479.75 L1179.10 479.75 L1180.41 479.75 L1181.72 479.75 L1183.03 479.75 L1184.34 479.75 L1185.65 479.75 L1186.96 479.75 L1188.28 479.75 L1189.59 479.75 L1190.90 479.75 L1192.21 479.75 L1193.52 479.75 L1194.83 479.75 L1196.14 479.75 L1197.45 479.75 L1198.76 479.75 L1200.07 479.75 L1201.38 479.75 L1202.69 479.75 L1204.00 479.75 L1205.31 479.75 L1206.62 479.75 L1207.93 479.75 L1209.24 479.75 L1210.55 479.74 L1211.86 479.73 L1213.17 479.72 L1214.49 479.70 L1215.80 479.65 L1217.11 479.59 L1218.42 479.49 L1219.73 479.33 L1221.04 479.11 L1222.35 478.81 L1223.66 478.38 L1224.97 477.81 L1226.28 477.07 L1227.59 476.13 L1228.90 474.94 L1230.21 473.49 L1231.52 471.73 L1232.83 469.64 L1234.14 467.19 L1235.45 464.36 L1236.76 461.14 L1238.07 457.51 L1239.38 453.46 L1240.70 448.99 L1242.01 444.11 L1243.32 438.83 L1244.63 433.16 L1245.94 427.12 L1247.25 420.73 L1248.56 414.01 L1249.87 406.99 L1251.18 399.70 L1252.49 392.17 L1253.80 384.43 L1255.11 376.51 L1256.42 368.45 L1257.73 360.26 L1259.04 351.98 L1260.35 343.64 L1261.66 335.25 L1262.97 326.86 L1264.28 318.48 L1265.59 310.13 L1266.91 301.82 L1268.22 293.59 L1269.53 285.44 L1270.84 277.39 L1272.15 269.45 L1273.46 261.64 L1274.77 253.96 L1276.08 246.42 L1277.39 239.02 L1278.70 231.78 L1280.01 224.70 L1281.32 217.79 L1282.63 211.03 L1283.94 204.45 L1285.25 198.03 L1286.56 191.79 L1287.87 185.71 L1289.18 179.80 L1290.49 174.06 L1291.80 168.48 L1293.12 163.07 L1294.43 157.82 L1295.74 152.73 L1297.05 147.80 L1298.36 143.02 L1299.67 138.39 L1300.98 133.91 L1302.29 129.57 L1303.60 125.37 L1304.91 121.31 L1306.22 117.39 L1307.53 113.60 L1308.84 109.93 L1310.15 106.38 L1311.46 102.96 L1312.77 99.65 L1314.08 96.46 L1315.39 93.37 L1316.70 90.39 L1318.01 87.52 L1319.33 84.74 L1320.64 82.06 L1321.95 79.47 L1323.26 76.98 L1324.57 74.57 L1325.88 72.25 L1327.19 70.00 L1328.50 67.84 L1329.81 65.76 L1331.12 63.74 L1332.43 61.80 L1333.74 59.93 L1335.05 58.13 L1336.36 56.39 L1337.67 54.71 L1338.98 53.09 L1340.29 51.53 L1341.60 50.03 L1342.91 48.57 L1344.22 47.18 L1345.54 45.83 L1346.85 44.53 L1348.16 43.27 L1349.47 42.07 L1350.78 40.90 L1352.09 39.78 L1353.40 38.70 L1354.71 37.65 L1356.02 36.65 L1357.33 35.68 L1358.64 34.74 L1359.95 33.84 L1361.26 32.97 L1362.57 32.14 L1363.88 31.33 L1365.19 30.55 L1366.50 29.80 L1367.81 29.08 L1369.12 28.38 L1370.43 27.71 L1371.75 27.06 L1373.06 26.44 L1374.37 25.84 L1375.68 25.26 L1376.99 24.70 L1378.30 24.16 L1379.61 23.65 L1380.92 23.15 L1382.23 22.66 L1383.54 22.20 L1384.85 21.75 L1386.16 21.32 L1387.47 20.91 L1388.78 20.51 L1390.09 20.12 L1391.40 19.75 L1392.71 19.39 L1394.02 19.04 L1395.33 18.71 L1396.64 18.39 L1397.96 18.08 L1399.27 17.78 L1400.58 17.49 L1401.89 17.22 L1403.20 16.95 L1404.51 16.69 L1405.82 16.44 L1407.13 16.21 L1408.44 15.98 L1409.75 15.75 L1411.06 15.54 L1412.37 15.33 L1413.68 15.13 L1414.99 14.94 L1416.30 14.76 L1417.61 14.58 L1418.92 14.41 L1420.23 14.24 L1421.54 14.08 L1422.85 13.93 L1424.17 13.78 L1425.48 13.64 L1426.79 13.50 L1428.10 13.37 L1429.41 13.24 L1430.72 13.12 L1432.03 13.00 L1433.34 12.89 L1434.65 12.78 L1435.96 12.67 L1437.27 12.57 L1438.58 12.47 L1439.89 12.38 L1441.20 12.28 L1442.51 12.20 L1443.82 12.11 L1445.13 12.03 L1446.44 11.95 L1447.75 11.87 L1449.06 11.80 L1450.38 11.73 L1451.69 11.66 L1453.00 11.60 L1454.31 11.53 L1455.62 11.47 L1456.93 11.41 L1458.24 11.36 L1459.55 11.30 L1460.86 11.25 L1462.17 11.20 L1463.48 11.15 L1464.79 11.10 L1466.10 11.06 L1467.41 11.01 L1468.72 10.97 L1470.03 10.93 L1471.34 10.89 L1472.65 10.85 L1473.96 10.82 L1475.27 10.78 L1476.59 10.75 L1477.90 10.72 L1479.21 10.68 L1480.52 10.65 L1481.83 10.63 L1483.14 10.60 L1484.45 10.57 L1485.76 10.54 L1487.07 10.52 L1488.38 10.49 L1489.69 10.47 L1491.00 10.45 L1492.31 10.43 L1493.62 10.41 L1494.93 10.39 L1496.24 10.37 L1497.55 10.35 L1498.86 10.33 L1500.17 10.31 L1501.48 10.30 L1502.80 10.28 L1504.11 10.26 L1505.42 10.25 L1506.73 10.23 L1508.04 10.22 L1509.35 10.21 L1510.66 10.19 L1511.97 10.18 L1513.28 10.17 L1514.59 10.16 L1515.90 10.15 L1517.21 10.14 L1518.52 10.13 L1519.83 10.12 L1521.14 10.11 L1522.45 10.10 L1523.76 10.09 L1525.07 10.08 L1526.38 10.07 L1527.69 10.06 L1529.01 10.06 L1530.32 10.05 L1531.63 10.04 L1532.94 10.03 L1534.25 10.03 L1535.56 10.02 L1536.87 10.01 L1538.18 10.01 L1539.49 10.00 L1540.80 10.00 L1542.11 9.99 L1543.42 9.99 L1544.73 9.98 L1546.04 9.98 L1547.35 9.97 L1548.66 9.97 L1549.97 9.96 L1551.28 9.96 L1552.59 9.96 L1553.90 9.95 L1555.22 9.95 L1556.53 9.94 L1557.84 9.94 L1559.15 9.94 L1560.46 9.93 L1561.77 9.93 L1563.08 9.93 L1564.39 9.93 L1565.70 9.92 L1567.01 9.92 L1568.32 9.92 L1569.63 9.92 L1570.94 9.91 L1572.25 9.91 L1573.56 9.91 L1574.87 9.91 L1576.18 9.90 L1577.49 9.90 L1578.80 9.90 L1580.11 9.90 L1581.43 9.90 L1582.74 9.90 L1584.05 9.89 L1585.36 9.89 L1586.67 9.89 L1587.98 9.89 L1589.29 9.89 L1590.60 9.89 L1591.91 9.88 L1593.22 9.88 L1594.53 9.88 L1595.84 9.88 L1597.15 9.88 L1598.46 9.88 L1599.77 9.88 L1601.08 9.88 L1602.39 9.88 L1603.70 9.88 L1605.01 9.87 L1606.32 9.87 L1607.64 9.87 L1608.95 9.87 L1610.26 9.87 L1611.57 9.87 L1612.88 9.87 L1614.19 9.87 L1615.50 9.87 L1616.81 9.87 L1618.12 9.87 L1619.43 9.87 L1620.74 9.87 L1622.05 9.86 L1623.36 9.86 L1624.67 9.86 L1625.98 9.86 L1627.29 9.86 L1628.60 9.86 L1629.91 9.86 L1631.22 9.86 L1632.53 9.86 L1633.85 9.86 L1635.16 9.86 L1636.47 9.86 L1637.78 9.86 L1639.09 9.86 L1640.40 9.86 L1641.71 9.86 L1643.02 9.86 L1644.33 9.86 L1645.64 9.86 L1646.95 9.86 L1648.26 9.86 L1649.57 9.86 L1650.88 9.86 L1652.19 9.86 L1653.50 9.86 L1654.81 9.86 L1656.12 9.86 L1657.43 9.86 L1658.74 9.86 L1660.06 9.86 L1661.37 9.85 L1662.68 9.85 L1663.99 9.85 L1665.30 9.85 L1666.61 9.85 L1667.92 9.85 L1669.23 9.85 L1670.54 9.85 L1671.85 9.85 L1673.16 9.85 L1674.47 9.85 L1675.78 9.85 L1677.09 9.85 L1678.40 9.85 L1679.71 9.85 L1681.02 9.85 L1682.33 9.85 L1683.64 9.85 L1684.95 9.85 L1686.27 9.85 L1687.58 9.85 L1688.89 9.85 L1690.20 9.85 L1691.51 9.85 L1692.82 9.85 L1694.13 9.85 L1695.44 9.85 L1696.75 9.85 L1698.06 9.85 L1699.37 9.85 L1700.68 9.85 L1701.99 9.85 L1703.30 9.85 L1704.61 9.85 L1705.92 9.85 L1707.23 9.85 L1708.54 9.85 L1709.85 9.85 L1711.16 9.85 L1712.48 9.85 L1713.79 9.85 L1715.10 9.85 L1716.41 9.85 L1717.72 9.85 L1719.03 9.85 L1720.34 9.85 L1721.65 9.85 L1722.96 9.85 L1724.27 9.85" stroke="#0000ff" stroke-width="1.7" stroke-dasharray="5 8.6" fill="none"/>
<path d="M1070.33 479.75 L1071.64 479.75 L1072.95 479.75 L1074.26 479.75 L1075.57 479.75 L1076.88 479.75 L1078.19 479.75 L1079.50 479.75 L1080.81 479.75 L1082.12 479.75 L1083.44 479.75 L1084.75 479.75 L1086.06 479.75 L1087.37 479.75 L1088.68 479.75 L1089.99 479.75 L1091.30 479.75 L1092.61 479.75 L1093.92 479.75 L1095.23 479.75 L1096.54 479.75 L1097.85 479.75 L1099.16 479.75 L1100.47 479.75 L1101.78 479.75 L1103.09 479.75 L1104.40 479.75 L1105.71 479.75 L1107.02 479.75 L1108.33 479.75 L1109.65 479.75 L1110.96 479.75 L1112.27 479.75 L1113.58 479.75 L1114.89 479.75 L1116.20 479.75 L1117.51 479.75 L1118.82 479.75 L1120.13 479.75 L1121.44 479.75 L1122.75 479.75 L1124.06 479.75 L1125.37 479.75 L1126.68 479.75 L1127.99 479.75 L1129.30 479.75 L1130.61 479.75 L1131.92 479.75 L1133.23 479.75 L1134.54 479.75 L1135.86 479.75 L1137.17 479.75 L1138.48 479.75 L1139.79 479.75 L1141.10 479.75 L1142.41 479.75 L1143.72 479.75 L1145.03 479.75 L1146.34 479.75 L1147.65 479.75 L1148.96 479.75 L1150.27 479.75 L1151.58 479.75 L1152.89 479.75 L1154.20 479.75 L1155.51 479.75 L1156.82 479.75 L1158.13 479.75 L1159.44 479.75 L1160.75 479.75 L1162.07 479.75 L1163.38 479.75 L1164.69 479.75 L1166.00 479.75 L1167.31 479.75 L1168.62 479.75 L1169.93 479.75 L1171.24 479.75 L1172.55 479.75 L1173.86 479.75 L1175.17 479.75 L1176.48 479.75 L1177.79 479.75 L1179.10 479.75 L1180.41 479.75 L1181.72 479.75 L1183.03 479.75 L1184.34 479.75 L1185.65 479.75 L1186.96 479.75 L1188.28 479.75 L1189.59 479.75 L1190.90 479.75 L1192.21 479.75 L1193.52 479.75 L1194.83 479.75 L1196.14 479.75 L1197.45 479.75 L1198.76 479.75 L1200.07 479.75 L1201.38 479.75 L1202.69 479.75 L1204.00 479.75 L1205.31 479.75 L1206.62 479.75 L1207.93 479.75 L1209.24 479.75 L1210.55 479.75 L1211.86 479.75 L1213.17 479.75 L1214.49 479.75 L1215.80 479.75 L1217.11 479.75 L1218.42 479.75 L1219.73 479.75 L1221.04 479.75 L1222.35 479.75 L1223.66 479.75 L1224.97 479.75 L1226.28 479.75 L1227.59 479.75 L1228.90 479.75 L1230.21 479.75 L1231.52 479.75 L1232.83 479.75 L1234.14 479.75 L1235.45 479.75 L1236.76 479.75 L1238.07 479.75 L1239.38 479.75 L1240.70 479.75 L1242.01 479.75 L1243.32 479.75 L1244.63 479.75 L1245.94 479.75 L1247.25 479.75 L1248.56 479.75 L1249.87 479.75 L1251.18 479.75 L1252.49 479.75 L1253.80 479.75 L1255.11 479.75 L1256.42 479.75 L1257.73 479.75 L1259.04 479.75 L1260.35 479.75 L1261.66 479.75 L1262.97 479.75 L1264.28 479.75 L1265.59 479.75 L1266.91 479.75 L1268.22 479.75 L1269.53 479.75 L1270.84 479.75 L1272.15 479.75 L1273.46 479.75 L1274.77 479.75 L1276.08 479.75 L1277.39 479.75 L1278.70 479.75 L1280.01 479.75 L1281.32 479.75 L1282.63 479.75 L1283.94 479.75 L1285.25 479.75 L1286.56 479.75 L1287.87 479.75 L1289.18 479.75 L1290.49 479.75 L1291.80 479.75 L1293.12 479.75 L1294.43 479.75 L1295.74 479.75 L1297.05 479.75 L1298.36 479.75 L1299.67 479.75 L1300.98 479.75 L1302.29 479.75 L1303.60 479.75 L1304.91 479.75 L1306.22 479.75 L1307.53 479.75 L1308.84 479.75 L1310.15 479.75 L1311.46 479.75 L1312.77 479.75 L1314.08 479.75 L1315.39 479.75 L1316.70 479.75 L1318.01 479.75 L1319.33 479.75 L1320.64 479.75 L1321.95 479.75 L1323.26 479.75 L1324.57 479.75 L1325.88 479.75 L1327.19 479.75 L1328.50 479.75 L1329.81 479.75 L1331.12 479.75 L1332.43 479.75 L1333.74 479.75 L1335.05 479.75 L1336.36 479.75 L1337.67 479.75 L1338.98 479.75 L1340.29 479.75 L1341.60 479.75 L1342.91 479.75 L1344.22 479.75 L1345.54 479.75 L1346.85 479.75 L1348.16 479.75 L1349.47 479.75 L1350.78 479.75 L1352.09 479.75 L1353.40 479.75 L1354.71 479.75 L1356.02 479.75 L1357.33 479.74 L1358.64 479.74 L1359.95 479.74 L1361.26 479.74 L1362.57 479.74 L1363.88 479.73 L1365.19 479.73 L1366.50 479.72 L1367.81 479.72 L1369.12 479.71 L1370.43 479.70 L1371.75 479.69 L1373.06 479.68 L1374.37 479.66 L1375.68 479.64 L1376.99 479.62 L1378.30 479.59 L1379.61 479.56 L1380.92 479.53 L1382.23 479.49 L1383.54 479.44 L1384.85 479.39 L1386.16 479.33 L1387.47 479.26 L1388.78 479.18 L1390.09 479.10 L1391.40 479.00 L1392.71 478.89 L1394.02 478.76 L1395.33 478.62 L1396.64 478.46 L1397.96 478.29 L1399.27 478.10 L1400.58 477.89 L1401.89 477.65 L1403.20 477.40 L1404.51 477.12 L1405.82 476.81 L1407.13 476.48 L1408.44 476.12 L1409.75 475.72 L1411.06 475.30 L1412.37 474.84 L1413.68 474.34 L1414.99 473.81 L1416.30 473.24 L1417.61 472.62 L1418.92 471.97 L1420.23 471.27 L1421.54 470.53 L1422.85 469.74 L1424.17 468.91 L1425.48 468.02 L1426.79 467.09 L1428.10 466.10 L1429.41 465.06 L1430.72 463.97 L1432.03 462.82 L1433.34 461.62 L1434.65 460.36 L1435.96 459.04 L1437.27 457.67 L1438.58 456.24 L1439.89 454.75 L1441.20 453.20 L1442.51 451.59 L1443.82 449.92 L1445.13 448.19 L1446.44 446.40 L1447.75 444.56 L1449.06 442.65 L1450.38 440.69 L1451.69 438.67 L1453.00 436.59 L1454.31 434.45 L1455.62 432.26 L1456.93 430.01 L1458.24 427.70 L1459.55 425.34 L1460.86 422.93 L1462.17 420.46 L1463.48 417.95 L1464.79 415.38 L1466.10 412.77 L1467.41 410.11 L1468.72 407.40 L1470.03 404.64 L1471.34 401.85 L1472.65 399.01 L1473.96 396.13 L1475.27 393.21 L1476.59 390.26 L1477.90 387.26 L1479.21 384.24 L1480.52 381.18 L1481.83 378.09 L1483.14 374.97 L1484.45 371.82 L1485.76 368.65 L1487.07 365.45 L1488.38 362.22 L1489.69 358.98 L1491.00 355.72 L1492.31 352.43 L1493.62 349.14 L1494.93 345.82 L1496.24 342.49 L1497.55 339.15 L1498.86 335.80 L1500.17 332.45 L1501.48 329.08 L1502.80 325.71 L1504.11 322.33 L1505.42 318.95 L1506.73 315.57 L1508.04 312.19 L1509.35 308.80 L1510.66 305.42 L1511.97 302.05 L1513.28 298.68 L1514.59 295.31 L1515.90 291.95 L1517.21 288.60 L1518.52 285.26 L1519.83 281.93 L1521.14 278.61 L1522.45 275.30 L1523.76 272.01 L1525.07 268.73 L1526.38 265.46 L1527.69 262.22 L1529.01 258.98 L1530.32 255.77 L1531.63 252.57 L1532.94 249.40 L1534.25 246.24 L1535.56 243.10 L1536.87 239.98 L1538.18 236.89 L1539.49 233.82 L1540.80 230.77 L1542.11 227.74 L1543.42 224.74 L1544.73 221.76 L1546.04 218.81 L1547.35 215.88 L1548.66 212.97 L1549.97 210.10 L1551.28 207.24 L1552.59 204.42 L1553.90 201.62 L1555.22 198.85 L1556.53 196.10 L1557.84 193.38 L1559.15 190.69 L1560.46 188.03 L1561.77 185.40 L1563.08 182.79 L1564.39 180.21 L1565.70 177.66 L1567.01 175.14 L1568.32 172.64 L1569.63 170.18 L1570.94 167.74 L1572.25 165.33 L1573.56 162.95 L1574.87 160.59 L1576.18 158.27 L1577.49 155.97 L1578.80 153.70 L1580.11 151.46 L1581.43 149.25 L1582.74 147.06 L1584.05 144.91 L1585.36 142.78 L1586.67 140.67 L1587.98 138.60 L1589.29 136.55 L1590.60 134.53 L1591.91 132.54 L1593.22 130.57 L1594.53 128.63 L1595.84 126.72 L1597.15 124.83 L1598.46 122.97 L1599.77 121.13 L1601.08 119.32 L1602.39 117.54 L1603.70 115.78 L1605.01 114.04 L1606.32 112.33 L1607.64 110.65 L1608.95 108.98 L1610.26 107.35 L1611.57 105.73 L1612.88 104.15 L1614.19 102.58 L1615.50 101.04 L1616.81 99.52 L1618.12 98.02 L1619.43 96.54 L1620.74 95.09 L1622.05 93.66 L1623.36 92.25 L1624.67 90.86 L1625.98 89.50 L1627.29 88.15 L1628.60 86.83 L1629.91 85.52 L1631.22 84.24 L1632.53 82.98 L1633.85 81.73 L1635.16 80.51 L1636.47 79.30 L1637.78 78.12 L1639.09 76.95 L1640.40 75.80 L1641.71 74.67 L1643.02 73.55 L1644.33 72.46 L1645.64 71.38 L1646.95 70.32 L1648.26 69.28 L1649.57 68.25 L1650.88 67.24 L1652.19 66.25 L1653.50 65.27 L1654.81 64.31 L1656.12 63.37 L1657.43 62.44 L1658.74 61.52 L1660.06 60.62 L1661.37 59.74 L1662.68 58.87 L1663.99 58.01 L1665.30 57.17 L1666.61 56.34 L1667.92 55.53 L1669.23 54.73 L1670.54 53.94 L1671.85 53.17 L1673.16 52.41 L1674.47 51.66 L1675.78 50.93 L1677.09 50.20 L1678.40 49.49 L1679.71 48.79 L1681.02 48.11 L1682.33 47.43 L1683.64 46.77 L1684.95 46.12 L1686.27 45.48 L1687.58 44.84 L1688.89 44.23 L1690.20 43.62 L1691.51 43.02 L1692.82 42.43 L1694.13 41.85 L1695.44 41.28 L1696.75 40.73 L1698.06 40.18 L1699.22 38.00 L1699.37 39.64 L1700.68 39.11 L1701.99 38.59 L1703.30 38.07 L1704.61 37.57 L1705.92 37.08 L1707.23 36.59 L1708.54 36.11 L1709.85 35.65 L1711.16 35.19 L1712.48 34.73 L1713.79 34.29 L1715.10 33.85 L1716.41 33.42 L1717.72 33.00 L1719.03 32.58 L1720.34 32.18 L1721.65 31.78 L1722.96 31.38 L1724.27 31.00" stroke="#ff0000" stroke-width="2.8" fill="none" stroke-linejoin="round"/>
<path d="M1070.33 479.75 L1071.64 479.75 L1072.95 479.75 L1074.26 479.75 L1075.57 479.75 L1076.88 479.75 L1078.19 479.75 L1079.50 479.75 L1080.81 479.75 L1082.12 479.75 L1083.44 479.75 L1084.75 479.75 L1086.06 479.75 L1087.37 479.75 L1088.68 479.75 L1089.99 479.75 L1091.30 479.75 L1092.61 479.75 L1093.92 479.75 L1095.23 479.75 L1096.54 479.75 L1097.85 479.75 L1099.16 479.75 L1100.47 479.75 L1101.78 479.75 L1103.09 479.75 L1104.40 479.75 L1105.71 479.75 L1107.02 479.75 L1108.33 479.75 L1109.65 479.75 L1110.96 479.75 L1112.27 479.75 L1113.58 479.75 L1114.89 479.75 L1116.20 479.75 L1117.51 479.75 L1118.82 479.75 L1120.13 479.75 L1121.44 479.75 L1122.75 479.75 L1124.06 479.75 L1125.37 479.75 L1126.68 479.75 L1127.99 479.75 L1129.30 479.75 L1130.61 479.75 L1131.92 479.75 L1133.23 479.75 L1134.54 479.75 L1135.86 479.75 L1137.17 479.75 L1138.48 479.75 L1139.79 479.75 L1141.10 479.75 L1142.41 479.75 L1143.72 479.75 L1145.03 479.75 L1146.34 479.75 L1147.65 479.75 L1148.96 479.75 L1150.27 479.75 L1151.58 479.75 L1152.89 479.75 L1154.20 479.75 L1155.51 479.75 L1156.82 479.75 L1158.13 479.75 L1159.44 479.75 L1160.75 479.75 L1162.07 479.75 L1163.38 479.75 L1164.69 479.75 L1166.00 479.75 L1167.31 479.75 L1168.62 479.75 L1169.93 479.75 L1171.24 479.75 L1172.55 479.75 L1173.86 479.75 L1175.17 479.75 L1176.48 479.75 L1177.79 479.75 L1179.10 479.75 L1180.41 479.75 L1181.72 479.75 L1183.03 479.75 L1184.34 479.75 L1185.65 479.75 L1186.96 479.75 L1188.28 479.75 L1189.59 479.75 L1190.90 479.75 L1192.21 479.75 L1193.52 479.75 L1194.83 479.75 L1196.14 479.75 L1197.45 479.75 L1198.76 479.75 L1200.07 479.75 L1201.38 479.75 L1202.69 479.75 L1204.00 479.75 L1205.31 479.75 L1206.62 479.75 L1207.93 479.75 L1209.24 479.75 L1210.55 479.75 L1211.86 479.75 L1213.17 479.75 L1214.49 479.75 L1215.80 479.75 L1217.11 479.75 L1218.42 479.75 L1219.73 479.75 L1221.04 479.75 L1222.35 479.75 L1223.66 479.75 L1224.97 479.75 L1226.28 479.75 L1227.59 479.75 L1228.90 479.75 L1230.21 479.75 L1231.52 479.75 L1232.83 479.75 L1234.14 479.75 L1235.45 479.75 L1236.76 479.75 L1238.07 479.75 L1239.38 479.75 L1240.70 479.75 L1242.01 479.75 L1243.32 479.75 L1244.63 479.75 L1245.94 479.75 L1247.25 479.75 L1248.56 479.75 L1249.87 479.75 L1251.18 479.75 L1252.49 479.75 L1253.80 479.75 L1255.11 479.75 L1256.42 479.75 L1257.73 479.75 L1259.04 479.75 L1260.35 479.75 L1261.66 479.75 L1262.97 479.75 L1264.28 479.75 L1265.59 479.75 L1266.91 479.75 L1268.22 479.75 L1269.53 479.75 L1270.84 479.75 L1272.15 479.75 L1273.46 479.75 L1274.77 479.75 L1276.08 479.75 L1277.39 479.75 L1278.70 479.75 L1280.01 479.75 L1281.32 479.75 L1282.63 479.75 L1283.94 479.75 L1285.25 479.75 L1286.56 479.75 L1287.87 479.75 L1289.18 479.75 L1290.49 479.75 L1291.80 479.75 L1293.12 479.75 L1294.43 479.75 L1295.74 479.75 L1297.05 479.75 L1298.36 479.75 L1299.67 479.75 L1300.98 479.75 L1302.29 479.75 L1303.60 479.75 L1304.91 479.75 L1306.22 479.75 L1307.53 479.75 L1308.84 479.75 L1310.15 479.75 L1311.46 479.75 L1312.77 479.75 L1314.08 479.75 L1315.39 479.75 L1316.70 479.75 L1318.01 479.75 L1319.33 479.75 L1320.64 479.75 L1321.95 479.75 L1323.26 479.75 L1324.57 479.75 L1325.88 479.75 L1327.19 479.75 L1328.50 479.75 L1329.81 479.75 L1331.12 479.75 L1332.43 479.75 L1333.74 479.75 L1335.05 479.75 L1336.36 479.75 L1337.67 479.75 L1338.98 479.75 L1340.29 479.75 L1341.60 479.75 L1342.91 479.75 L1344.22 479.75 L1345.54 479.75 L1346.85 479.75 L1348.16 479.75 L1349.47 479.75 L1350.78 479.75 L1352.09 479.75 L1353.40 479.75 L1354.71 479.75 L1356.02 479.75 L1357.33 479.75 L1358.64 479.75 L1359.95 479.75 L1361.26 479.75 L1362.57 479.75 L1363.88 479.75 L1365.19 479.75 L1366.50 479.75 L1367.81 479.75 L1369.12 479.75 L1370.43 479.75 L1371.75 479.75 L1373.06 479.75 L1374.37 479.74 L1375.68 479.73 L1376.99 479.72 L1378.30 479.69 L1379.61 479.64 L1380.92 479.57 L1382.23 479.45 L1383.54 479.29 L1384.85 479.05 L1386.16 478.71 L1387.47 478.25 L1388.78 477.65 L1390.09 476.86 L1391.40 475.86 L1392.71 474.61 L1394.02 473.08 L1395.33 471.24 L1396.64 469.06 L1397.96 466.52 L1399.27 463.60 L1400.58 460.27 L1401.89 456.53 L1403.20 452.38 L1404.51 447.81 L1405.82 442.83 L1407.13 437.45 L1408.44 431.68 L1409.75 425.55 L1411.06 419.08 L1412.37 412.28 L1413.68 405.19 L1414.99 397.84 L1416.30 390.26 L1417.61 382.47 L1418.92 374.51 L1420.23 366.41 L1421.54 358.20 L1422.85 349.90 L1424.17 341.54 L1425.48 333.16 L1426.79 324.76 L1428.10 316.39 L1429.41 308.04 L1430.72 299.76 L1432.03 291.54 L1433.34 283.42 L1434.65 275.40 L1435.96 267.49 L1437.27 259.71 L1438.58 252.06 L1439.89 244.55 L1441.20 237.20 L1442.51 230.00 L1443.82 222.96 L1445.13 216.08 L1446.44 209.37 L1447.75 202.83 L1449.06 196.45 L1450.38 190.25 L1451.69 184.21 L1453.00 178.35 L1454.31 172.65 L1455.62 167.11 L1456.93 161.74 L1458.24 156.53 L1459.55 151.48 L1460.86 146.59 L1462.17 141.85 L1463.48 137.25 L1464.79 132.81 L1466.10 128.51 L1467.41 124.35 L1468.72 120.32 L1470.03 116.43 L1471.34 112.67 L1472.65 109.03 L1473.96 105.52 L1475.27 102.12 L1476.59 98.84 L1477.90 95.67 L1479.21 92.62 L1480.52 89.66 L1481.83 86.81 L1483.14 84.06 L1484.45 81.40 L1485.76 78.84 L1487.07 76.37 L1488.38 73.98 L1489.69 71.68 L1491.00 69.46 L1492.31 67.31 L1493.62 65.25 L1494.93 63.25 L1496.24 61.33 L1497.55 59.48 L1498.86 57.69 L1500.17 55.96 L1501.48 54.30 L1502.80 52.70 L1504.11 51.15 L1505.42 49.66 L1506.73 48.22 L1508.04 46.83 L1509.35 45.50 L1510.66 44.21 L1511.97 42.97 L1513.28 41.77 L1514.59 40.62 L1515.90 39.50 L1517.21 38.43 L1518.52 37.40 L1519.83 36.40 L1521.14 35.44 L1522.45 34.51 L1523.76 33.62 L1525.07 32.76 L1526.38 31.93 L1527.69 31.13 L1529.01 30.36 L1530.32 29.62 L1531.63 28.90 L1532.94 28.21 L1534.25 27.55 L1535.56 26.91 L1536.87 26.29 L1538.18 25.69 L1539.49 25.12 L1540.80 24.57 L1542.11 24.03 L1543.42 23.52 L1544.73 23.02 L1546.04 22.55 L1547.35 22.09 L1548.66 21.64 L1549.97 21.22 L1551.28 20.80 L1552.59 20.41 L1553.90 20.03 L1555.22 19.66 L1556.53 19.30 L1557.84 18.96 L1559.15 18.63 L1560.46 18.31 L1561.77 18.00 L1563.08 17.71 L1564.39 17.42 L1565.70 17.15 L1567.01 16.88 L1568.32 16.63 L1569.63 16.38 L1570.94 16.15 L1572.25 15.92 L1573.56 15.70 L1574.87 15.49 L1576.18 15.28 L1577.49 15.09 L1578.80 14.90 L1580.11 14.71 L1581.43 14.54 L1582.74 14.37 L1584.05 14.20 L1585.36 14.05 L1586.67 13.89 L1587.98 13.75 L1589.29 13.61 L1590.60 13.47 L1591.91 13.34 L1593.22 13.21 L1594.53 13.09 L1595.84 12.97 L1597.15 12.86 L1598.46 12.75 L1599.77 12.65 L1601.08 12.54 L1602.39 12.45 L1603.70 12.35 L1605.01 12.26 L1606.32 12.17 L1607.64 12.09 L1608.95 12.01 L1610.26 11.93 L1611.57 11.86 L1612.88 11.78 L1614.19 11.71 L1615.50 11.65 L1616.81 11.58 L1618.12 11.52 L1619.43 11.46 L1620.74 11.40 L1622.05 11.34 L1623.36 11.29 L1624.67 11.24 L1625.98 11.19 L1627.29 11.14 L1628.60 11.09 L1629.91 11.05 L1631.22 11.00 L1632.53 10.96 L1633.85 10.92 L1635.16 10.88 L1636.47 10.84 L1637.78 10.81 L1639.09 10.77 L1640.40 10.74 L1641.71 10.71 L1643.02 10.68 L1644.33 10.65 L1645.64 10.62 L1646.95 10.59 L1648.26 10.56 L1649.57 10.54 L1650.88 10.51 L1652.19 10.49 L1653.50 10.47 L1654.81 10.44 L1656.12 10.42 L1657.43 10.40 L1658.74 10.38 L1660.06 10.36 L1661.37 10.34 L1662.68 10.33 L1663.99 10.31 L1665.30 10.29 L1666.61 10.28 L1667.92 10.26 L1669.23 10.25 L1670.54 10.23 L1671.85 10.22 L1673.16 10.20 L1674.47 10.19 L1675.78 10.18 L1677.09 10.17 L1678.40 10.16 L1679.71 10.14 L1681.02 10.13 L1682.33 10.12 L1683.64 10.11 L1684.95 10.10 L1686.27 10.09 L1687.58 10.09 L1688.89 10.08 L1690.20 10.07 L1691.51 10.06 L1692.82 10.05 L1694.13 10.05 L1695.44 10.04 L1696.75 10.03 L1698.06 10.03 L1699.37 10.02 L1700.68 10.01 L1701.99 10.01 L1703.30 10.00 L1704.61 10.00 L1705.92 9.99 L1707.23 9.99 L1708.54 9.98 L1709.85 9.98 L1711.16 9.97 L1712.48 9.97 L1713.79 9.96 L1715.10 9.96 L1716.41 9.95 L1717.72 9.95 L1719.03 9.95 L1720.34 9.94 L1721.65 9.94 L1722.96 9.94 L1724.27 9.93" stroke="#ff0000" stroke-width="1.7" stroke-dasharray="5 8.6" fill="none"/>
<rect x="1070.33" y="9.85" width="653.94" height="470.15" fill="none" stroke="#000" stroke-width="1.5"/>
<g font-size="26">
<text x="1055.3" y="488.25" text-anchor="end">0</text>
<text x="1055.3" y="394.27" text-anchor="end">0.2</text>
<text x="1055.3" y="300.29" text-anchor="end">0.4</text>
<text x="1055.3" y="206.31" text-anchor="end">0.6</text>
<text x="1055.3" y="112.33" text-anchor="end">0.8</text>
<text x="1055.3" y="18.35" text-anchor="end">1</text>
<text x="1111.20" y="513.1" text-anchor="middle">-6</text>
<text x="1192.94" y="513.1" text-anchor="middle">-4</text>
<text x="1274.69" y="513.1" text-anchor="middle">-2</text>
<text x="1359.93" y="513.1" text-anchor="middle">0</text>
<text x="1441.67" y="513.1" text-anchor="middle">2</text>
<text x="1523.41" y="513.1" text-anchor="middle">4</text>
<text x="1605.16" y="513.1" text-anchor="middle">6</text>
<text x="1686.90" y="513.1" text-anchor="middle">8</text>
<text x="1184" y="126.1" text-anchor="middle">x=0.1</text>
<text x="1531" y="126.1" text-anchor="middle">x=10.</text>
</g>
<text x="1397.45" y="553.4" text-anchor="middle" font-size="33">log(t)</text>
<text transform="translate(977.1,244.4) rotate(-90) scale(0.96,1)" text-anchor="middle" font-size="33">C<tspan font-size="27.7" dy="10.1">1</tspan><tspan dy="-10.1">(x,t)/C</tspan><tspan font-size="27.7" dy="10.1">0</tspan><tspan dy="-10.1">, C</tspan><tspan font-size="27.7" dy="10.1">1/2</tspan><tspan dy="-10.1">(x,t)/C</tspan><tspan font-size="27.7" dy="10.1">0</tspan></text>
<g class="serif"><text transform="translate(889,561) scale(0.84,1.07)" font-size="49">(</text><text transform="translate(904.9,560.6) scale(1.035,0.97)" font-size="49">b</text><text transform="translate(930.5,561) scale(0.84,1.07)" font-size="49">)</text></g>
</g>
</svg>
</body></html>
